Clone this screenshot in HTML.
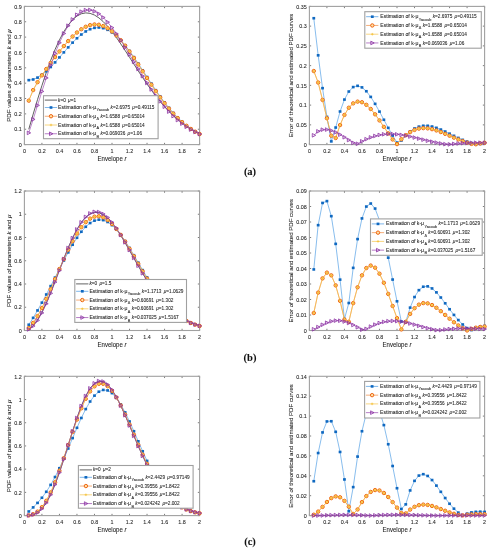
<!DOCTYPE html>
<html><head><meta charset="utf-8"><style>
html,body{margin:0;padding:0;background:#fff;}
body{width:491px;height:550px;overflow:hidden;}
svg{display:block;filter:blur(0.3px);}
text{stroke:#262626;stroke-width:0.08px;}
.tk{stroke-width:0.08px;}
</style></head><body>
<svg width="491" height="550" viewBox="0 0 491 550" font-family='"Liberation Sans", Arial, sans-serif' fill="#262626">
<rect width="491" height="550" fill="#fff"/>
<path d="M24.40 144.60v-1.75M24.40 6.40v1.75M41.92 144.60v-1.75M41.92 6.40v1.75M59.44 144.60v-1.75M59.44 6.40v1.75M76.96 144.60v-1.75M76.96 6.40v1.75M94.48 144.60v-1.75M94.48 6.40v1.75M112.00 144.60v-1.75M112.00 6.40v1.75M129.52 144.60v-1.75M129.52 6.40v1.75M147.04 144.60v-1.75M147.04 6.40v1.75M164.56 144.60v-1.75M164.56 6.40v1.75M182.08 144.60v-1.75M182.08 6.40v1.75M199.60 144.60v-1.75M199.60 6.40v1.75M24.40 144.60h1.75M199.60 144.60h-1.75M24.40 129.24h1.75M199.60 129.24h-1.75M24.40 113.89h1.75M199.60 113.89h-1.75M24.40 98.53h1.75M199.60 98.53h-1.75M24.40 83.18h1.75M199.60 83.18h-1.75M24.40 67.82h1.75M199.60 67.82h-1.75M24.40 52.47h1.75M199.60 52.47h-1.75M24.40 37.11h1.75M199.60 37.11h-1.75M24.40 21.76h1.75M199.60 21.76h-1.75M24.40 6.40h1.75M199.60 6.40h-1.75" stroke="#262626" stroke-width="0.6" fill="none"/>
<rect x="24.40" y="6.40" width="175.20" height="138.20" fill="none" stroke="#a0a0a0" stroke-width="1.1"/>
<text transform="translate(24.40 152.70) scale(0.87 1)" class="tk" text-anchor="middle" font-size="6.2">0</text>
<text transform="translate(41.92 152.70) scale(0.87 1)" class="tk" text-anchor="middle" font-size="6.2">0.2</text>
<text transform="translate(59.44 152.70) scale(0.87 1)" class="tk" text-anchor="middle" font-size="6.2">0.4</text>
<text transform="translate(76.96 152.70) scale(0.87 1)" class="tk" text-anchor="middle" font-size="6.2">0.6</text>
<text transform="translate(94.48 152.70) scale(0.87 1)" class="tk" text-anchor="middle" font-size="6.2">0.8</text>
<text transform="translate(112.00 152.70) scale(0.87 1)" class="tk" text-anchor="middle" font-size="6.2">1</text>
<text transform="translate(129.52 152.70) scale(0.87 1)" class="tk" text-anchor="middle" font-size="6.2">1.2</text>
<text transform="translate(147.04 152.70) scale(0.87 1)" class="tk" text-anchor="middle" font-size="6.2">1.4</text>
<text transform="translate(164.56 152.70) scale(0.87 1)" class="tk" text-anchor="middle" font-size="6.2">1.6</text>
<text transform="translate(182.08 152.70) scale(0.87 1)" class="tk" text-anchor="middle" font-size="6.2">1.8</text>
<text transform="translate(199.60 152.70) scale(0.87 1)" class="tk" text-anchor="middle" font-size="6.2">2</text>
<text transform="translate(21.80 146.83) scale(0.87 1)" class="tk" text-anchor="end" font-size="6.2">0</text>
<text transform="translate(21.80 131.48) scale(0.87 1)" class="tk" text-anchor="end" font-size="6.2">0.1</text>
<text transform="translate(21.80 116.12) scale(0.87 1)" class="tk" text-anchor="end" font-size="6.2">0.2</text>
<text transform="translate(21.80 100.77) scale(0.87 1)" class="tk" text-anchor="end" font-size="6.2">0.3</text>
<text transform="translate(21.80 85.41) scale(0.87 1)" class="tk" text-anchor="end" font-size="6.2">0.4</text>
<text transform="translate(21.80 70.05) scale(0.87 1)" class="tk" text-anchor="end" font-size="6.2">0.5</text>
<text transform="translate(21.80 54.70) scale(0.87 1)" class="tk" text-anchor="end" font-size="6.2">0.6</text>
<text transform="translate(21.80 39.34) scale(0.87 1)" class="tk" text-anchor="end" font-size="6.2">0.7</text>
<text transform="translate(21.80 23.99) scale(0.87 1)" class="tk" text-anchor="end" font-size="6.2">0.8</text>
<text transform="translate(21.80 8.63) scale(0.87 1)" class="tk" text-anchor="end" font-size="6.2">0.9</text>
<text transform="translate(112.00 161.30) scale(0.965 1)" text-anchor="middle" font-size="6.3">Envelope <tspan font-style="italic">r</tspan></text>
<text transform="translate(11.00 75.50) rotate(-90) scale(1.0 1.0)" text-anchor="middle" font-size="6.1">PDF values of parameters <tspan font-style="italic">k</tspan> and <tspan font-style="italic">μ</tspan></text>
<g>
<polyline points="28.78,129.28 33.16,114.19 37.54,99.56 41.92,85.59 46.30,72.47 50.68,60.40 55.06,49.50 59.44,39.92 63.82,31.73 68.20,25.01 72.58,19.78 76.96,16.04 81.34,13.77 85.72,12.90 90.10,13.36 94.48,15.05 98.86,17.85 103.24,21.64 107.62,26.28 112.00,31.62 116.38,37.53 120.76,43.86 125.14,50.49 129.52,57.28 133.90,64.13 138.28,70.93 142.66,77.59 147.04,84.04 151.42,90.20 155.80,96.05 160.18,101.52 164.56,106.61 168.94,111.30 173.32,115.58 177.70,119.46 182.08,122.95 186.46,126.06 190.84,128.81 195.22,131.24 199.60,133.35" fill="none" stroke="#2a2a2a" stroke-width="0.75" stroke-linejoin="round"/>
<polyline points="28.78,80.14 33.16,79.48 37.54,77.61 41.92,74.80 46.30,71.23 50.68,67.03 55.06,62.38 59.44,57.43 63.82,52.37 68.20,47.38 72.58,42.63 76.96,38.29 81.34,34.52 85.72,31.45 90.10,29.21 94.48,27.87 98.86,27.51 103.24,28.16 107.62,29.80 112.00,32.41 116.38,35.93 120.76,40.28 125.14,45.34 129.52,51.01 133.90,57.15 138.28,63.61 142.66,70.28 147.04,77.01 151.42,83.68 155.80,90.19 160.18,96.45 164.56,102.37 168.94,107.89 173.32,112.98 177.70,117.62 182.08,121.78 186.46,125.47 190.84,128.71 195.22,131.52 199.60,133.93" fill="none" stroke="#3890e0" stroke-width="0.6" stroke-linejoin="round"/>
<rect x="27.38" y="78.84" width="2.8" height="2.6" fill="#0f68c0"/><rect x="31.76" y="78.18" width="2.8" height="2.6" fill="#0f68c0"/><rect x="36.14" y="76.31" width="2.8" height="2.6" fill="#0f68c0"/><rect x="40.52" y="73.50" width="2.8" height="2.6" fill="#0f68c0"/><rect x="44.90" y="69.93" width="2.8" height="2.6" fill="#0f68c0"/><rect x="49.28" y="65.73" width="2.8" height="2.6" fill="#0f68c0"/><rect x="53.66" y="61.08" width="2.8" height="2.6" fill="#0f68c0"/><rect x="58.04" y="56.13" width="2.8" height="2.6" fill="#0f68c0"/><rect x="62.42" y="51.07" width="2.8" height="2.6" fill="#0f68c0"/><rect x="66.80" y="46.08" width="2.8" height="2.6" fill="#0f68c0"/><rect x="71.18" y="41.33" width="2.8" height="2.6" fill="#0f68c0"/><rect x="75.56" y="36.99" width="2.8" height="2.6" fill="#0f68c0"/><rect x="79.94" y="33.22" width="2.8" height="2.6" fill="#0f68c0"/><rect x="84.32" y="30.15" width="2.8" height="2.6" fill="#0f68c0"/><rect x="88.70" y="27.91" width="2.8" height="2.6" fill="#0f68c0"/><rect x="93.08" y="26.57" width="2.8" height="2.6" fill="#0f68c0"/><rect x="97.46" y="26.21" width="2.8" height="2.6" fill="#0f68c0"/><rect x="101.84" y="26.86" width="2.8" height="2.6" fill="#0f68c0"/><rect x="106.22" y="28.50" width="2.8" height="2.6" fill="#0f68c0"/><rect x="110.60" y="31.11" width="2.8" height="2.6" fill="#0f68c0"/><rect x="114.98" y="34.63" width="2.8" height="2.6" fill="#0f68c0"/><rect x="119.36" y="38.98" width="2.8" height="2.6" fill="#0f68c0"/><rect x="123.74" y="44.04" width="2.8" height="2.6" fill="#0f68c0"/><rect x="128.12" y="49.71" width="2.8" height="2.6" fill="#0f68c0"/><rect x="132.50" y="55.85" width="2.8" height="2.6" fill="#0f68c0"/><rect x="136.88" y="62.31" width="2.8" height="2.6" fill="#0f68c0"/><rect x="141.26" y="68.98" width="2.8" height="2.6" fill="#0f68c0"/><rect x="145.64" y="75.71" width="2.8" height="2.6" fill="#0f68c0"/><rect x="150.02" y="82.38" width="2.8" height="2.6" fill="#0f68c0"/><rect x="154.40" y="88.89" width="2.8" height="2.6" fill="#0f68c0"/><rect x="158.78" y="95.15" width="2.8" height="2.6" fill="#0f68c0"/><rect x="163.16" y="101.07" width="2.8" height="2.6" fill="#0f68c0"/><rect x="167.54" y="106.59" width="2.8" height="2.6" fill="#0f68c0"/><rect x="171.92" y="111.68" width="2.8" height="2.6" fill="#0f68c0"/><rect x="176.30" y="116.32" width="2.8" height="2.6" fill="#0f68c0"/><rect x="180.68" y="120.48" width="2.8" height="2.6" fill="#0f68c0"/><rect x="185.06" y="124.17" width="2.8" height="2.6" fill="#0f68c0"/><rect x="189.44" y="127.41" width="2.8" height="2.6" fill="#0f68c0"/><rect x="193.82" y="130.22" width="2.8" height="2.6" fill="#0f68c0"/><rect x="198.20" y="132.63" width="2.8" height="2.6" fill="#0f68c0"/>
<polyline points="28.78,100.67 33.16,90.06 37.54,82.18 41.92,75.35 46.30,69.02 50.68,62.96 55.06,57.10 59.44,51.45 63.82,46.07 68.20,41.05 72.58,36.49 76.96,32.52 81.34,29.24 85.72,26.75 90.10,25.13 94.48,24.45 98.86,24.75 103.24,26.03 107.62,28.27 112.00,31.43 116.38,35.44 120.76,40.21 125.14,45.63 129.52,51.57 133.90,57.92 138.28,64.53 142.66,71.27 147.04,78.03 151.42,84.70 155.80,91.16 160.18,97.34 164.56,103.17 168.94,108.60 173.32,113.59 177.70,118.12 182.08,122.18 186.46,125.78 190.84,128.95 195.22,131.69 199.60,134.05" fill="none" stroke="#f08030" stroke-width="0.6" stroke-linejoin="round"/>
<circle cx="28.78" cy="100.67" r="1.7" fill="#fde3a8" stroke="#f06412" stroke-width="1.0"/><circle cx="33.16" cy="90.06" r="1.7" fill="#fde3a8" stroke="#f06412" stroke-width="1.0"/><circle cx="37.54" cy="82.18" r="1.7" fill="#fde3a8" stroke="#f06412" stroke-width="1.0"/><circle cx="41.92" cy="75.35" r="1.7" fill="#fde3a8" stroke="#f06412" stroke-width="1.0"/><circle cx="46.30" cy="69.02" r="1.7" fill="#fde3a8" stroke="#f06412" stroke-width="1.0"/><circle cx="50.68" cy="62.96" r="1.7" fill="#fde3a8" stroke="#f06412" stroke-width="1.0"/><circle cx="55.06" cy="57.10" r="1.7" fill="#fde3a8" stroke="#f06412" stroke-width="1.0"/><circle cx="59.44" cy="51.45" r="1.7" fill="#fde3a8" stroke="#f06412" stroke-width="1.0"/><circle cx="63.82" cy="46.07" r="1.7" fill="#fde3a8" stroke="#f06412" stroke-width="1.0"/><circle cx="68.20" cy="41.05" r="1.7" fill="#fde3a8" stroke="#f06412" stroke-width="1.0"/><circle cx="72.58" cy="36.49" r="1.7" fill="#fde3a8" stroke="#f06412" stroke-width="1.0"/><circle cx="76.96" cy="32.52" r="1.7" fill="#fde3a8" stroke="#f06412" stroke-width="1.0"/><circle cx="81.34" cy="29.24" r="1.7" fill="#fde3a8" stroke="#f06412" stroke-width="1.0"/><circle cx="85.72" cy="26.75" r="1.7" fill="#fde3a8" stroke="#f06412" stroke-width="1.0"/><circle cx="90.10" cy="25.13" r="1.7" fill="#fde3a8" stroke="#f06412" stroke-width="1.0"/><circle cx="94.48" cy="24.45" r="1.7" fill="#fde3a8" stroke="#f06412" stroke-width="1.0"/><circle cx="98.86" cy="24.75" r="1.7" fill="#fde3a8" stroke="#f06412" stroke-width="1.0"/><circle cx="103.24" cy="26.03" r="1.7" fill="#fde3a8" stroke="#f06412" stroke-width="1.0"/><circle cx="107.62" cy="28.27" r="1.7" fill="#fde3a8" stroke="#f06412" stroke-width="1.0"/><circle cx="112.00" cy="31.43" r="1.7" fill="#fde3a8" stroke="#f06412" stroke-width="1.0"/><circle cx="116.38" cy="35.44" r="1.7" fill="#fde3a8" stroke="#f06412" stroke-width="1.0"/><circle cx="120.76" cy="40.21" r="1.7" fill="#fde3a8" stroke="#f06412" stroke-width="1.0"/><circle cx="125.14" cy="45.63" r="1.7" fill="#fde3a8" stroke="#f06412" stroke-width="1.0"/><circle cx="129.52" cy="51.57" r="1.7" fill="#fde3a8" stroke="#f06412" stroke-width="1.0"/><circle cx="133.90" cy="57.92" r="1.7" fill="#fde3a8" stroke="#f06412" stroke-width="1.0"/><circle cx="138.28" cy="64.53" r="1.7" fill="#fde3a8" stroke="#f06412" stroke-width="1.0"/><circle cx="142.66" cy="71.27" r="1.7" fill="#fde3a8" stroke="#f06412" stroke-width="1.0"/><circle cx="147.04" cy="78.03" r="1.7" fill="#fde3a8" stroke="#f06412" stroke-width="1.0"/><circle cx="151.42" cy="84.70" r="1.7" fill="#fde3a8" stroke="#f06412" stroke-width="1.0"/><circle cx="155.80" cy="91.16" r="1.7" fill="#fde3a8" stroke="#f06412" stroke-width="1.0"/><circle cx="160.18" cy="97.34" r="1.7" fill="#fde3a8" stroke="#f06412" stroke-width="1.0"/><circle cx="164.56" cy="103.17" r="1.7" fill="#fde3a8" stroke="#f06412" stroke-width="1.0"/><circle cx="168.94" cy="108.60" r="1.7" fill="#fde3a8" stroke="#f06412" stroke-width="1.0"/><circle cx="173.32" cy="113.59" r="1.7" fill="#fde3a8" stroke="#f06412" stroke-width="1.0"/><circle cx="177.70" cy="118.12" r="1.7" fill="#fde3a8" stroke="#f06412" stroke-width="1.0"/><circle cx="182.08" cy="122.18" r="1.7" fill="#fde3a8" stroke="#f06412" stroke-width="1.0"/><circle cx="186.46" cy="125.78" r="1.7" fill="#fde3a8" stroke="#f06412" stroke-width="1.0"/><circle cx="190.84" cy="128.95" r="1.7" fill="#fde3a8" stroke="#f06412" stroke-width="1.0"/><circle cx="195.22" cy="131.69" r="1.7" fill="#fde3a8" stroke="#f06412" stroke-width="1.0"/><circle cx="199.60" cy="134.05" r="1.7" fill="#fde3a8" stroke="#f06412" stroke-width="1.0"/>
<polyline points="28.78,100.67 33.16,90.06 37.54,82.18 41.92,75.35 46.30,69.02 50.68,62.96 55.06,57.10 59.44,51.45 63.82,46.07 68.20,41.05 72.58,36.49 76.96,32.52 81.34,29.24 85.72,26.75 90.10,25.13 94.48,24.45 98.86,24.75 103.24,26.03 107.62,28.27 112.00,31.43 116.38,35.44 120.76,40.21 125.14,45.63 129.52,51.57 133.90,57.92 138.28,64.53 142.66,71.27 147.04,78.03 151.42,84.70 155.80,91.16 160.18,97.34 164.56,103.17 168.94,108.60 173.32,113.59 177.70,118.12 182.08,122.18 186.46,125.78 190.84,128.95 195.22,131.69 199.60,134.05" fill="none" stroke="#f4c03c" stroke-width="0.6" stroke-linejoin="round"/>
<path d="M27.48 100.67h2.6M28.78 99.37v2.6" stroke="#f4bc28" stroke-width="0.65" fill="none"/><path d="M31.86 90.06h2.6M33.16 88.76v2.6" stroke="#f4bc28" stroke-width="0.65" fill="none"/><path d="M36.24 82.18h2.6M37.54 80.88v2.6" stroke="#f4bc28" stroke-width="0.65" fill="none"/><path d="M40.62 75.35h2.6M41.92 74.05v2.6" stroke="#f4bc28" stroke-width="0.65" fill="none"/><path d="M45.00 69.02h2.6M46.30 67.72v2.6" stroke="#f4bc28" stroke-width="0.65" fill="none"/><path d="M49.38 62.96h2.6M50.68 61.66v2.6" stroke="#f4bc28" stroke-width="0.65" fill="none"/><path d="M53.76 57.10h2.6M55.06 55.80v2.6" stroke="#f4bc28" stroke-width="0.65" fill="none"/><path d="M58.14 51.45h2.6M59.44 50.15v2.6" stroke="#f4bc28" stroke-width="0.65" fill="none"/><path d="M62.52 46.07h2.6M63.82 44.77v2.6" stroke="#f4bc28" stroke-width="0.65" fill="none"/><path d="M66.90 41.05h2.6M68.20 39.75v2.6" stroke="#f4bc28" stroke-width="0.65" fill="none"/><path d="M71.28 36.49h2.6M72.58 35.19v2.6" stroke="#f4bc28" stroke-width="0.65" fill="none"/><path d="M75.66 32.52h2.6M76.96 31.22v2.6" stroke="#f4bc28" stroke-width="0.65" fill="none"/><path d="M80.04 29.24h2.6M81.34 27.94v2.6" stroke="#f4bc28" stroke-width="0.65" fill="none"/><path d="M84.42 26.75h2.6M85.72 25.45v2.6" stroke="#f4bc28" stroke-width="0.65" fill="none"/><path d="M88.80 25.13h2.6M90.10 23.83v2.6" stroke="#f4bc28" stroke-width="0.65" fill="none"/><path d="M93.18 24.45h2.6M94.48 23.15v2.6" stroke="#f4bc28" stroke-width="0.65" fill="none"/><path d="M97.56 24.75h2.6M98.86 23.45v2.6" stroke="#f4bc28" stroke-width="0.65" fill="none"/><path d="M101.94 26.03h2.6M103.24 24.73v2.6" stroke="#f4bc28" stroke-width="0.65" fill="none"/><path d="M106.32 28.27h2.6M107.62 26.97v2.6" stroke="#f4bc28" stroke-width="0.65" fill="none"/><path d="M110.70 31.43h2.6M112.00 30.13v2.6" stroke="#f4bc28" stroke-width="0.65" fill="none"/><path d="M115.08 35.44h2.6M116.38 34.14v2.6" stroke="#f4bc28" stroke-width="0.65" fill="none"/><path d="M119.46 40.21h2.6M120.76 38.91v2.6" stroke="#f4bc28" stroke-width="0.65" fill="none"/><path d="M123.84 45.63h2.6M125.14 44.33v2.6" stroke="#f4bc28" stroke-width="0.65" fill="none"/><path d="M128.22 51.57h2.6M129.52 50.27v2.6" stroke="#f4bc28" stroke-width="0.65" fill="none"/><path d="M132.60 57.92h2.6M133.90 56.62v2.6" stroke="#f4bc28" stroke-width="0.65" fill="none"/><path d="M136.98 64.53h2.6M138.28 63.23v2.6" stroke="#f4bc28" stroke-width="0.65" fill="none"/><path d="M141.36 71.27h2.6M142.66 69.97v2.6" stroke="#f4bc28" stroke-width="0.65" fill="none"/><path d="M145.74 78.03h2.6M147.04 76.73v2.6" stroke="#f4bc28" stroke-width="0.65" fill="none"/><path d="M150.12 84.70h2.6M151.42 83.40v2.6" stroke="#f4bc28" stroke-width="0.65" fill="none"/><path d="M154.50 91.16h2.6M155.80 89.86v2.6" stroke="#f4bc28" stroke-width="0.65" fill="none"/><path d="M158.88 97.34h2.6M160.18 96.04v2.6" stroke="#f4bc28" stroke-width="0.65" fill="none"/><path d="M163.26 103.17h2.6M164.56 101.87v2.6" stroke="#f4bc28" stroke-width="0.65" fill="none"/><path d="M167.64 108.60h2.6M168.94 107.30v2.6" stroke="#f4bc28" stroke-width="0.65" fill="none"/><path d="M172.02 113.59h2.6M173.32 112.29v2.6" stroke="#f4bc28" stroke-width="0.65" fill="none"/><path d="M176.40 118.12h2.6M177.70 116.82v2.6" stroke="#f4bc28" stroke-width="0.65" fill="none"/><path d="M180.78 122.18h2.6M182.08 120.88v2.6" stroke="#f4bc28" stroke-width="0.65" fill="none"/><path d="M185.16 125.78h2.6M186.46 124.48v2.6" stroke="#f4bc28" stroke-width="0.65" fill="none"/><path d="M189.54 128.95h2.6M190.84 127.65v2.6" stroke="#f4bc28" stroke-width="0.65" fill="none"/><path d="M193.92 131.69h2.6M195.22 130.39v2.6" stroke="#f4bc28" stroke-width="0.65" fill="none"/><path d="M198.30 134.05h2.6M199.60 132.75v2.6" stroke="#f4bc28" stroke-width="0.65" fill="none"/>
<polyline points="28.78,132.89 33.16,119.35 37.54,105.36 41.92,91.43 46.30,77.93 50.68,65.17 55.06,53.38 59.44,42.78 63.82,33.51 68.20,25.71 72.58,19.45 76.96,14.77 81.34,11.66 85.72,10.10 90.10,10.01 94.48,11.30 98.86,13.84 103.24,17.52 107.62,22.16 112.00,27.63 116.38,33.75 120.76,40.38 125.14,47.36 129.52,54.54 133.90,61.80 138.28,69.01 142.66,76.08 147.04,82.91 151.42,89.44 155.80,95.60 160.18,101.36 164.56,106.69 168.94,111.58 173.32,116.03 177.70,120.03 182.08,123.60 186.46,126.77 190.84,129.55 195.22,131.97 199.60,134.07" fill="none" stroke="#9038a8" stroke-width="0.6" stroke-linejoin="round"/>
<path d="M27.28 131.09L30.68 132.89L27.28 134.69Z" fill="none" stroke="#8a2ea2" stroke-width="0.8"/><path d="M31.66 117.55L35.06 119.35L31.66 121.15Z" fill="none" stroke="#8a2ea2" stroke-width="0.8"/><path d="M36.04 103.56L39.44 105.36L36.04 107.16Z" fill="none" stroke="#8a2ea2" stroke-width="0.8"/><path d="M40.42 89.63L43.82 91.43L40.42 93.23Z" fill="none" stroke="#8a2ea2" stroke-width="0.8"/><path d="M44.80 76.13L48.20 77.93L44.80 79.73Z" fill="none" stroke="#8a2ea2" stroke-width="0.8"/><path d="M49.18 63.37L52.58 65.17L49.18 66.97Z" fill="none" stroke="#8a2ea2" stroke-width="0.8"/><path d="M53.56 51.58L56.96 53.38L53.56 55.18Z" fill="none" stroke="#8a2ea2" stroke-width="0.8"/><path d="M57.94 40.98L61.34 42.78L57.94 44.58Z" fill="none" stroke="#8a2ea2" stroke-width="0.8"/><path d="M62.32 31.71L65.72 33.51L62.32 35.31Z" fill="none" stroke="#8a2ea2" stroke-width="0.8"/><path d="M66.70 23.91L70.10 25.71L66.70 27.51Z" fill="none" stroke="#8a2ea2" stroke-width="0.8"/><path d="M71.08 17.65L74.48 19.45L71.08 21.25Z" fill="none" stroke="#8a2ea2" stroke-width="0.8"/><path d="M75.46 12.97L78.86 14.77L75.46 16.57Z" fill="none" stroke="#8a2ea2" stroke-width="0.8"/><path d="M79.84 9.86L83.24 11.66L79.84 13.46Z" fill="none" stroke="#8a2ea2" stroke-width="0.8"/><path d="M84.22 8.30L87.62 10.10L84.22 11.90Z" fill="none" stroke="#8a2ea2" stroke-width="0.8"/><path d="M88.60 8.21L92.00 10.01L88.60 11.81Z" fill="none" stroke="#8a2ea2" stroke-width="0.8"/><path d="M92.98 9.50L96.38 11.30L92.98 13.10Z" fill="none" stroke="#8a2ea2" stroke-width="0.8"/><path d="M97.36 12.04L100.76 13.84L97.36 15.64Z" fill="none" stroke="#8a2ea2" stroke-width="0.8"/><path d="M101.74 15.72L105.14 17.52L101.74 19.32Z" fill="none" stroke="#8a2ea2" stroke-width="0.8"/><path d="M106.12 20.36L109.52 22.16L106.12 23.96Z" fill="none" stroke="#8a2ea2" stroke-width="0.8"/><path d="M110.50 25.83L113.90 27.63L110.50 29.43Z" fill="none" stroke="#8a2ea2" stroke-width="0.8"/><path d="M114.88 31.95L118.28 33.75L114.88 35.55Z" fill="none" stroke="#8a2ea2" stroke-width="0.8"/><path d="M119.26 38.58L122.66 40.38L119.26 42.18Z" fill="none" stroke="#8a2ea2" stroke-width="0.8"/><path d="M123.64 45.56L127.04 47.36L123.64 49.16Z" fill="none" stroke="#8a2ea2" stroke-width="0.8"/><path d="M128.02 52.74L131.42 54.54L128.02 56.34Z" fill="none" stroke="#8a2ea2" stroke-width="0.8"/><path d="M132.40 60.00L135.80 61.80L132.40 63.60Z" fill="none" stroke="#8a2ea2" stroke-width="0.8"/><path d="M136.78 67.21L140.18 69.01L136.78 70.81Z" fill="none" stroke="#8a2ea2" stroke-width="0.8"/><path d="M141.16 74.28L144.56 76.08L141.16 77.88Z" fill="none" stroke="#8a2ea2" stroke-width="0.8"/><path d="M145.54 81.11L148.94 82.91L145.54 84.71Z" fill="none" stroke="#8a2ea2" stroke-width="0.8"/><path d="M149.92 87.64L153.32 89.44L149.92 91.24Z" fill="none" stroke="#8a2ea2" stroke-width="0.8"/><path d="M154.30 93.80L157.70 95.60L154.30 97.40Z" fill="none" stroke="#8a2ea2" stroke-width="0.8"/><path d="M158.68 99.56L162.08 101.36L158.68 103.16Z" fill="none" stroke="#8a2ea2" stroke-width="0.8"/><path d="M163.06 104.89L166.46 106.69L163.06 108.49Z" fill="none" stroke="#8a2ea2" stroke-width="0.8"/><path d="M167.44 109.78L170.84 111.58L167.44 113.38Z" fill="none" stroke="#8a2ea2" stroke-width="0.8"/><path d="M171.82 114.23L175.22 116.03L171.82 117.83Z" fill="none" stroke="#8a2ea2" stroke-width="0.8"/><path d="M176.20 118.23L179.60 120.03L176.20 121.83Z" fill="none" stroke="#8a2ea2" stroke-width="0.8"/><path d="M180.58 121.80L183.98 123.60L180.58 125.40Z" fill="none" stroke="#8a2ea2" stroke-width="0.8"/><path d="M184.96 124.97L188.36 126.77L184.96 128.57Z" fill="none" stroke="#8a2ea2" stroke-width="0.8"/><path d="M189.34 127.75L192.74 129.55L189.34 131.35Z" fill="none" stroke="#8a2ea2" stroke-width="0.8"/><path d="M193.72 130.17L197.12 131.97L193.72 133.77Z" fill="none" stroke="#8a2ea2" stroke-width="0.8"/><path d="M198.10 132.27L201.50 134.07L198.10 135.87Z" fill="none" stroke="#8a2ea2" stroke-width="0.8"/>
</g>
<rect x="43.50" y="95.70" width="114.60" height="43.00" fill="#fff" stroke="#a0a0a0" stroke-width="1.1"/>
<path d="M44.80 100.10H57.10" stroke="#3a3a3a" stroke-width="0.8"/>
<text transform="translate(58.10 101.65) scale(0.93 1)" font-size="5.1"><tspan font-style="italic">k</tspan>=0<tspan dx="2.4" font-style="italic">μ</tspan>=1</text>
<path d="M44.80 107.50H57.10" stroke="#3890e0" stroke-width="0.65"/>
<rect x="49.60" y="106.20" width="2.8" height="2.6" fill="#0f68c0"/>
<text transform="translate(58.10 109.05) scale(1.0 1)" font-size="5.1">Estimation of k-μ</text>
<text transform="translate(96.53 111.45) scale(1.0 1)" font-size="3.8">Yacoub</text>
<text transform="translate(110.54 109.05) scale(0.93 1)" font-size="5.1"><tspan font-style="italic">k</tspan>=2.6975<tspan dx="2.4" font-style="italic">μ</tspan>=0.49115</text>
<path d="M44.80 116.25H57.10" stroke="#f08030" stroke-width="0.65"/>
<circle cx="51.00" cy="116.25" r="1.7" fill="#fde3a8" stroke="#f06412" stroke-width="1.0"/>
<text transform="translate(58.10 117.80) scale(1.0 1)" font-size="5.1">Estimation of k-μ</text>
<text transform="translate(96.53 120.20) scale(1.0 1)" font-size="3.8">Δ</text>
<text transform="translate(100.47 117.80) scale(0.93 1)" font-size="5.1"><tspan font-style="italic">k</tspan>=1.6588<tspan dx="2.4" font-style="italic">μ</tspan>=0.65014</text>
<path d="M44.80 125.00H57.10" stroke="#f4c03c" stroke-width="0.65"/>
<path d="M49.70 125.00h2.6M51.00 123.70v2.6" stroke="#f4bc28" stroke-width="0.65" fill="none"/>
<text transform="translate(58.10 126.55) scale(1.0 1)" font-size="5.1">Estimation of k-μ</text>
<text transform="translate(96.53 128.95) scale(1.0 1)" font-size="3.8">A</text>
<text transform="translate(100.47 126.55) scale(0.93 1)" font-size="5.1"><tspan font-style="italic">k</tspan>=1.6588<tspan dx="2.4" font-style="italic">μ</tspan>=0.65014</text>
<path d="M44.80 133.75H57.10" stroke="#9038a8" stroke-width="0.65"/>
<path d="M49.50 131.95L52.90 133.75L49.50 135.55Z" fill="none" stroke="#8a2ea2" stroke-width="0.8"/>
<text transform="translate(58.10 135.30) scale(1.0 1)" font-size="5.1">Estimation of k-μ</text>
<text transform="translate(96.53 137.70) scale(1.0 1)" font-size="3.8">B</text>
<text transform="translate(100.47 135.30) scale(0.93 1)" font-size="5.1"><tspan font-style="italic">k</tspan>=0.069036<tspan dx="2.4" font-style="italic">μ</tspan>=1.06</text>
<path d="M309.40 144.60v-1.75M309.40 6.40v1.75M326.92 144.60v-1.75M326.92 6.40v1.75M344.44 144.60v-1.75M344.44 6.40v1.75M361.96 144.60v-1.75M361.96 6.40v1.75M379.48 144.60v-1.75M379.48 6.40v1.75M397.00 144.60v-1.75M397.00 6.40v1.75M414.52 144.60v-1.75M414.52 6.40v1.75M432.04 144.60v-1.75M432.04 6.40v1.75M449.56 144.60v-1.75M449.56 6.40v1.75M467.08 144.60v-1.75M467.08 6.40v1.75M484.60 144.60v-1.75M484.60 6.40v1.75M309.40 144.60h1.75M484.60 144.60h-1.75M309.40 124.86h1.75M484.60 124.86h-1.75M309.40 105.11h1.75M484.60 105.11h-1.75M309.40 85.37h1.75M484.60 85.37h-1.75M309.40 65.63h1.75M484.60 65.63h-1.75M309.40 45.89h1.75M484.60 45.89h-1.75M309.40 26.14h1.75M484.60 26.14h-1.75M309.40 6.40h1.75M484.60 6.40h-1.75" stroke="#262626" stroke-width="0.6" fill="none"/>
<rect x="309.40" y="6.40" width="175.20" height="138.20" fill="none" stroke="#a0a0a0" stroke-width="1.1"/>
<text transform="translate(309.40 152.70) scale(0.87 1)" class="tk" text-anchor="middle" font-size="6.2">0</text>
<text transform="translate(326.92 152.70) scale(0.87 1)" class="tk" text-anchor="middle" font-size="6.2">0.2</text>
<text transform="translate(344.44 152.70) scale(0.87 1)" class="tk" text-anchor="middle" font-size="6.2">0.4</text>
<text transform="translate(361.96 152.70) scale(0.87 1)" class="tk" text-anchor="middle" font-size="6.2">0.6</text>
<text transform="translate(379.48 152.70) scale(0.87 1)" class="tk" text-anchor="middle" font-size="6.2">0.8</text>
<text transform="translate(397.00 152.70) scale(0.87 1)" class="tk" text-anchor="middle" font-size="6.2">1</text>
<text transform="translate(414.52 152.70) scale(0.87 1)" class="tk" text-anchor="middle" font-size="6.2">1.2</text>
<text transform="translate(432.04 152.70) scale(0.87 1)" class="tk" text-anchor="middle" font-size="6.2">1.4</text>
<text transform="translate(449.56 152.70) scale(0.87 1)" class="tk" text-anchor="middle" font-size="6.2">1.6</text>
<text transform="translate(467.08 152.70) scale(0.87 1)" class="tk" text-anchor="middle" font-size="6.2">1.8</text>
<text transform="translate(484.60 152.70) scale(0.87 1)" class="tk" text-anchor="middle" font-size="6.2">2</text>
<text transform="translate(306.80 146.83) scale(0.87 1)" class="tk" text-anchor="end" font-size="6.2">0</text>
<text transform="translate(306.80 127.09) scale(0.87 1)" class="tk" text-anchor="end" font-size="6.2">0.05</text>
<text transform="translate(306.80 107.35) scale(0.87 1)" class="tk" text-anchor="end" font-size="6.2">0.1</text>
<text transform="translate(306.80 87.60) scale(0.87 1)" class="tk" text-anchor="end" font-size="6.2">0.15</text>
<text transform="translate(306.80 67.86) scale(0.87 1)" class="tk" text-anchor="end" font-size="6.2">0.2</text>
<text transform="translate(306.80 48.12) scale(0.87 1)" class="tk" text-anchor="end" font-size="6.2">0.25</text>
<text transform="translate(306.80 28.37) scale(0.87 1)" class="tk" text-anchor="end" font-size="6.2">0.3</text>
<text transform="translate(306.80 8.63) scale(0.87 1)" class="tk" text-anchor="end" font-size="6.2">0.35</text>
<text transform="translate(397.00 161.30) scale(0.965 1)" text-anchor="middle" font-size="6.3">Envelope <tspan font-style="italic">r</tspan></text>
<text transform="translate(293.00 75.50) rotate(-90) scale(1.0 1.0)" text-anchor="middle" font-size="6.1">Error of theoretical and estimated PDF curves</text>
<polyline points="313.78,18.22 318.16,55.33 322.54,88.16 326.92,116.88 331.30,141.39 335.68,127.54 340.06,111.50 344.44,99.57 348.82,91.53 353.20,87.08 357.58,85.84 361.96,87.39 366.34,91.24 370.72,96.90 375.10,103.85 379.48,111.62 383.86,119.76 388.24,127.85 392.62,135.55 397.00,142.57 401.38,140.49 405.76,135.38 410.14,131.37 414.52,128.47 418.90,126.63 423.28,125.78 427.66,125.79 432.04,126.52 436.42,127.83 440.80,129.55 445.18,131.54 449.56,133.68 453.94,135.83 458.32,137.91 462.70,139.85 467.08,141.58 471.46,143.08 475.84,144.33 480.22,143.87 484.60,143.10" fill="none" stroke="#3890e0" stroke-width="0.6" stroke-linejoin="round"/>
<rect x="312.38" y="16.92" width="2.8" height="2.6" fill="#0f68c0"/><rect x="316.76" y="54.03" width="2.8" height="2.6" fill="#0f68c0"/><rect x="321.14" y="86.86" width="2.8" height="2.6" fill="#0f68c0"/><rect x="325.52" y="115.58" width="2.8" height="2.6" fill="#0f68c0"/><rect x="329.90" y="140.09" width="2.8" height="2.6" fill="#0f68c0"/><rect x="334.28" y="126.24" width="2.8" height="2.6" fill="#0f68c0"/><rect x="338.66" y="110.20" width="2.8" height="2.6" fill="#0f68c0"/><rect x="343.04" y="98.27" width="2.8" height="2.6" fill="#0f68c0"/><rect x="347.42" y="90.23" width="2.8" height="2.6" fill="#0f68c0"/><rect x="351.80" y="85.78" width="2.8" height="2.6" fill="#0f68c0"/><rect x="356.18" y="84.54" width="2.8" height="2.6" fill="#0f68c0"/><rect x="360.56" y="86.09" width="2.8" height="2.6" fill="#0f68c0"/><rect x="364.94" y="89.94" width="2.8" height="2.6" fill="#0f68c0"/><rect x="369.32" y="95.60" width="2.8" height="2.6" fill="#0f68c0"/><rect x="373.70" y="102.55" width="2.8" height="2.6" fill="#0f68c0"/><rect x="378.08" y="110.32" width="2.8" height="2.6" fill="#0f68c0"/><rect x="382.46" y="118.46" width="2.8" height="2.6" fill="#0f68c0"/><rect x="386.84" y="126.55" width="2.8" height="2.6" fill="#0f68c0"/><rect x="391.22" y="134.25" width="2.8" height="2.6" fill="#0f68c0"/><rect x="395.60" y="141.27" width="2.8" height="2.6" fill="#0f68c0"/><rect x="399.98" y="139.19" width="2.8" height="2.6" fill="#0f68c0"/><rect x="404.36" y="134.08" width="2.8" height="2.6" fill="#0f68c0"/><rect x="408.74" y="130.07" width="2.8" height="2.6" fill="#0f68c0"/><rect x="413.12" y="127.17" width="2.8" height="2.6" fill="#0f68c0"/><rect x="417.50" y="125.33" width="2.8" height="2.6" fill="#0f68c0"/><rect x="421.88" y="124.48" width="2.8" height="2.6" fill="#0f68c0"/><rect x="426.26" y="124.49" width="2.8" height="2.6" fill="#0f68c0"/><rect x="430.64" y="125.22" width="2.8" height="2.6" fill="#0f68c0"/><rect x="435.02" y="126.53" width="2.8" height="2.6" fill="#0f68c0"/><rect x="439.40" y="128.25" width="2.8" height="2.6" fill="#0f68c0"/><rect x="443.78" y="130.24" width="2.8" height="2.6" fill="#0f68c0"/><rect x="448.16" y="132.38" width="2.8" height="2.6" fill="#0f68c0"/><rect x="452.54" y="134.53" width="2.8" height="2.6" fill="#0f68c0"/><rect x="456.92" y="136.61" width="2.8" height="2.6" fill="#0f68c0"/><rect x="461.30" y="138.55" width="2.8" height="2.6" fill="#0f68c0"/><rect x="465.68" y="140.28" width="2.8" height="2.6" fill="#0f68c0"/><rect x="470.06" y="141.78" width="2.8" height="2.6" fill="#0f68c0"/><rect x="474.44" y="143.03" width="2.8" height="2.6" fill="#0f68c0"/><rect x="478.82" y="142.57" width="2.8" height="2.6" fill="#0f68c0"/><rect x="483.20" y="141.80" width="2.8" height="2.6" fill="#0f68c0"/>
<polyline points="313.78,71.04 318.16,82.54 322.54,99.90 326.92,118.28 331.30,135.72 335.68,138.00 340.06,125.06 344.44,114.94 348.82,107.74 353.20,103.36 357.58,101.63 361.96,102.23 366.34,104.82 370.72,108.99 375.10,114.33 379.48,120.42 383.86,126.87 388.24,133.32 392.62,139.47 397.00,144.12 401.38,139.24 405.76,135.21 410.14,132.10 414.52,129.91 418.90,128.61 423.28,128.13 427.66,128.35 432.04,129.17 436.42,130.44 440.80,132.04 445.18,133.85 449.56,135.75 453.94,137.65 458.32,139.46 462.70,141.13 467.08,142.62 471.46,143.89 475.84,144.26 480.22,143.43 484.60,142.81" fill="none" stroke="#f08030" stroke-width="0.6" stroke-linejoin="round"/>
<circle cx="313.78" cy="71.04" r="1.7" fill="#fde3a8" stroke="#f06412" stroke-width="1.0"/><circle cx="318.16" cy="82.54" r="1.7" fill="#fde3a8" stroke="#f06412" stroke-width="1.0"/><circle cx="322.54" cy="99.90" r="1.7" fill="#fde3a8" stroke="#f06412" stroke-width="1.0"/><circle cx="326.92" cy="118.28" r="1.7" fill="#fde3a8" stroke="#f06412" stroke-width="1.0"/><circle cx="331.30" cy="135.72" r="1.7" fill="#fde3a8" stroke="#f06412" stroke-width="1.0"/><circle cx="335.68" cy="138.00" r="1.7" fill="#fde3a8" stroke="#f06412" stroke-width="1.0"/><circle cx="340.06" cy="125.06" r="1.7" fill="#fde3a8" stroke="#f06412" stroke-width="1.0"/><circle cx="344.44" cy="114.94" r="1.7" fill="#fde3a8" stroke="#f06412" stroke-width="1.0"/><circle cx="348.82" cy="107.74" r="1.7" fill="#fde3a8" stroke="#f06412" stroke-width="1.0"/><circle cx="353.20" cy="103.36" r="1.7" fill="#fde3a8" stroke="#f06412" stroke-width="1.0"/><circle cx="357.58" cy="101.63" r="1.7" fill="#fde3a8" stroke="#f06412" stroke-width="1.0"/><circle cx="361.96" cy="102.23" r="1.7" fill="#fde3a8" stroke="#f06412" stroke-width="1.0"/><circle cx="366.34" cy="104.82" r="1.7" fill="#fde3a8" stroke="#f06412" stroke-width="1.0"/><circle cx="370.72" cy="108.99" r="1.7" fill="#fde3a8" stroke="#f06412" stroke-width="1.0"/><circle cx="375.10" cy="114.33" r="1.7" fill="#fde3a8" stroke="#f06412" stroke-width="1.0"/><circle cx="379.48" cy="120.42" r="1.7" fill="#fde3a8" stroke="#f06412" stroke-width="1.0"/><circle cx="383.86" cy="126.87" r="1.7" fill="#fde3a8" stroke="#f06412" stroke-width="1.0"/><circle cx="388.24" cy="133.32" r="1.7" fill="#fde3a8" stroke="#f06412" stroke-width="1.0"/><circle cx="392.62" cy="139.47" r="1.7" fill="#fde3a8" stroke="#f06412" stroke-width="1.0"/><circle cx="397.00" cy="144.12" r="1.7" fill="#fde3a8" stroke="#f06412" stroke-width="1.0"/><circle cx="401.38" cy="139.24" r="1.7" fill="#fde3a8" stroke="#f06412" stroke-width="1.0"/><circle cx="405.76" cy="135.21" r="1.7" fill="#fde3a8" stroke="#f06412" stroke-width="1.0"/><circle cx="410.14" cy="132.10" r="1.7" fill="#fde3a8" stroke="#f06412" stroke-width="1.0"/><circle cx="414.52" cy="129.91" r="1.7" fill="#fde3a8" stroke="#f06412" stroke-width="1.0"/><circle cx="418.90" cy="128.61" r="1.7" fill="#fde3a8" stroke="#f06412" stroke-width="1.0"/><circle cx="423.28" cy="128.13" r="1.7" fill="#fde3a8" stroke="#f06412" stroke-width="1.0"/><circle cx="427.66" cy="128.35" r="1.7" fill="#fde3a8" stroke="#f06412" stroke-width="1.0"/><circle cx="432.04" cy="129.17" r="1.7" fill="#fde3a8" stroke="#f06412" stroke-width="1.0"/><circle cx="436.42" cy="130.44" r="1.7" fill="#fde3a8" stroke="#f06412" stroke-width="1.0"/><circle cx="440.80" cy="132.04" r="1.7" fill="#fde3a8" stroke="#f06412" stroke-width="1.0"/><circle cx="445.18" cy="133.85" r="1.7" fill="#fde3a8" stroke="#f06412" stroke-width="1.0"/><circle cx="449.56" cy="135.75" r="1.7" fill="#fde3a8" stroke="#f06412" stroke-width="1.0"/><circle cx="453.94" cy="137.65" r="1.7" fill="#fde3a8" stroke="#f06412" stroke-width="1.0"/><circle cx="458.32" cy="139.46" r="1.7" fill="#fde3a8" stroke="#f06412" stroke-width="1.0"/><circle cx="462.70" cy="141.13" r="1.7" fill="#fde3a8" stroke="#f06412" stroke-width="1.0"/><circle cx="467.08" cy="142.62" r="1.7" fill="#fde3a8" stroke="#f06412" stroke-width="1.0"/><circle cx="471.46" cy="143.89" r="1.7" fill="#fde3a8" stroke="#f06412" stroke-width="1.0"/><circle cx="475.84" cy="144.26" r="1.7" fill="#fde3a8" stroke="#f06412" stroke-width="1.0"/><circle cx="480.22" cy="143.43" r="1.7" fill="#fde3a8" stroke="#f06412" stroke-width="1.0"/><circle cx="484.60" cy="142.81" r="1.7" fill="#fde3a8" stroke="#f06412" stroke-width="1.0"/>
<polyline points="313.78,71.04 318.16,82.54 322.54,99.90 326.92,118.28 331.30,135.72 335.68,138.00 340.06,125.06 344.44,114.94 348.82,107.74 353.20,103.36 357.58,101.63 361.96,102.23 366.34,104.82 370.72,108.99 375.10,114.33 379.48,120.42 383.86,126.87 388.24,133.32 392.62,139.47 397.00,144.12 401.38,139.24 405.76,135.21 410.14,132.10 414.52,129.91 418.90,128.61 423.28,128.13 427.66,128.35 432.04,129.17 436.42,130.44 440.80,132.04 445.18,133.85 449.56,135.75 453.94,137.65 458.32,139.46 462.70,141.13 467.08,142.62 471.46,143.89 475.84,144.26 480.22,143.43 484.60,142.81" fill="none" stroke="#f4c03c" stroke-width="0.6" stroke-linejoin="round"/>
<path d="M312.48 71.04h2.6M313.78 69.74v2.6" stroke="#f4bc28" stroke-width="0.65" fill="none"/><path d="M316.86 82.54h2.6M318.16 81.24v2.6" stroke="#f4bc28" stroke-width="0.65" fill="none"/><path d="M321.24 99.90h2.6M322.54 98.60v2.6" stroke="#f4bc28" stroke-width="0.65" fill="none"/><path d="M325.62 118.28h2.6M326.92 116.98v2.6" stroke="#f4bc28" stroke-width="0.65" fill="none"/><path d="M330.00 135.72h2.6M331.30 134.42v2.6" stroke="#f4bc28" stroke-width="0.65" fill="none"/><path d="M334.38 138.00h2.6M335.68 136.70v2.6" stroke="#f4bc28" stroke-width="0.65" fill="none"/><path d="M338.76 125.06h2.6M340.06 123.76v2.6" stroke="#f4bc28" stroke-width="0.65" fill="none"/><path d="M343.14 114.94h2.6M344.44 113.64v2.6" stroke="#f4bc28" stroke-width="0.65" fill="none"/><path d="M347.52 107.74h2.6M348.82 106.44v2.6" stroke="#f4bc28" stroke-width="0.65" fill="none"/><path d="M351.90 103.36h2.6M353.20 102.06v2.6" stroke="#f4bc28" stroke-width="0.65" fill="none"/><path d="M356.28 101.63h2.6M357.58 100.33v2.6" stroke="#f4bc28" stroke-width="0.65" fill="none"/><path d="M360.66 102.23h2.6M361.96 100.93v2.6" stroke="#f4bc28" stroke-width="0.65" fill="none"/><path d="M365.04 104.82h2.6M366.34 103.52v2.6" stroke="#f4bc28" stroke-width="0.65" fill="none"/><path d="M369.42 108.99h2.6M370.72 107.69v2.6" stroke="#f4bc28" stroke-width="0.65" fill="none"/><path d="M373.80 114.33h2.6M375.10 113.03v2.6" stroke="#f4bc28" stroke-width="0.65" fill="none"/><path d="M378.18 120.42h2.6M379.48 119.12v2.6" stroke="#f4bc28" stroke-width="0.65" fill="none"/><path d="M382.56 126.87h2.6M383.86 125.57v2.6" stroke="#f4bc28" stroke-width="0.65" fill="none"/><path d="M386.94 133.32h2.6M388.24 132.02v2.6" stroke="#f4bc28" stroke-width="0.65" fill="none"/><path d="M391.32 139.47h2.6M392.62 138.17v2.6" stroke="#f4bc28" stroke-width="0.65" fill="none"/><path d="M395.70 144.12h2.6M397.00 142.82v2.6" stroke="#f4bc28" stroke-width="0.65" fill="none"/><path d="M400.08 139.24h2.6M401.38 137.94v2.6" stroke="#f4bc28" stroke-width="0.65" fill="none"/><path d="M404.46 135.21h2.6M405.76 133.91v2.6" stroke="#f4bc28" stroke-width="0.65" fill="none"/><path d="M408.84 132.10h2.6M410.14 130.80v2.6" stroke="#f4bc28" stroke-width="0.65" fill="none"/><path d="M413.22 129.91h2.6M414.52 128.61v2.6" stroke="#f4bc28" stroke-width="0.65" fill="none"/><path d="M417.60 128.61h2.6M418.90 127.31v2.6" stroke="#f4bc28" stroke-width="0.65" fill="none"/><path d="M421.98 128.13h2.6M423.28 126.83v2.6" stroke="#f4bc28" stroke-width="0.65" fill="none"/><path d="M426.36 128.35h2.6M427.66 127.05v2.6" stroke="#f4bc28" stroke-width="0.65" fill="none"/><path d="M430.74 129.17h2.6M432.04 127.87v2.6" stroke="#f4bc28" stroke-width="0.65" fill="none"/><path d="M435.12 130.44h2.6M436.42 129.14v2.6" stroke="#f4bc28" stroke-width="0.65" fill="none"/><path d="M439.50 132.04h2.6M440.80 130.74v2.6" stroke="#f4bc28" stroke-width="0.65" fill="none"/><path d="M443.88 133.85h2.6M445.18 132.55v2.6" stroke="#f4bc28" stroke-width="0.65" fill="none"/><path d="M448.26 135.75h2.6M449.56 134.45v2.6" stroke="#f4bc28" stroke-width="0.65" fill="none"/><path d="M452.64 137.65h2.6M453.94 136.35v2.6" stroke="#f4bc28" stroke-width="0.65" fill="none"/><path d="M457.02 139.46h2.6M458.32 138.16v2.6" stroke="#f4bc28" stroke-width="0.65" fill="none"/><path d="M461.40 141.13h2.6M462.70 139.83v2.6" stroke="#f4bc28" stroke-width="0.65" fill="none"/><path d="M465.78 142.62h2.6M467.08 141.32v2.6" stroke="#f4bc28" stroke-width="0.65" fill="none"/><path d="M470.16 143.89h2.6M471.46 142.59v2.6" stroke="#f4bc28" stroke-width="0.65" fill="none"/><path d="M474.54 144.26h2.6M475.84 142.96v2.6" stroke="#f4bc28" stroke-width="0.65" fill="none"/><path d="M478.92 143.43h2.6M480.22 142.13v2.6" stroke="#f4bc28" stroke-width="0.65" fill="none"/><path d="M483.30 142.81h2.6M484.60 141.51v2.6" stroke="#f4bc28" stroke-width="0.65" fill="none"/>
<polyline points="313.78,135.32 318.16,131.35 322.54,129.69 326.92,129.58 331.30,130.56 335.68,132.33 340.06,134.63 344.44,137.25 348.82,140.02 353.20,142.79 357.58,143.76 361.96,141.33 366.34,139.20 370.72,137.40 375.10,135.98 379.48,134.95 383.86,134.29 388.24,133.99 392.62,134.02 397.00,134.34 401.38,134.90 405.76,135.65 410.14,136.55 414.52,137.55 418.90,138.60 423.28,139.67 427.66,140.71 432.04,141.70 436.42,142.62 440.80,143.45 445.18,144.18 449.56,144.39 453.94,143.88 458.32,143.47 462.70,143.15 467.08,142.93 471.46,142.79 475.84,142.72 480.22,142.70 484.60,142.74" fill="none" stroke="#9038a8" stroke-width="0.6" stroke-linejoin="round"/>
<path d="M312.28 133.52L315.68 135.32L312.28 137.12Z" fill="none" stroke="#8a2ea2" stroke-width="0.8"/><path d="M316.66 129.55L320.06 131.35L316.66 133.15Z" fill="none" stroke="#8a2ea2" stroke-width="0.8"/><path d="M321.04 127.89L324.44 129.69L321.04 131.49Z" fill="none" stroke="#8a2ea2" stroke-width="0.8"/><path d="M325.42 127.78L328.82 129.58L325.42 131.38Z" fill="none" stroke="#8a2ea2" stroke-width="0.8"/><path d="M329.80 128.76L333.20 130.56L329.80 132.36Z" fill="none" stroke="#8a2ea2" stroke-width="0.8"/><path d="M334.18 130.53L337.58 132.33L334.18 134.13Z" fill="none" stroke="#8a2ea2" stroke-width="0.8"/><path d="M338.56 132.83L341.96 134.63L338.56 136.43Z" fill="none" stroke="#8a2ea2" stroke-width="0.8"/><path d="M342.94 135.45L346.34 137.25L342.94 139.05Z" fill="none" stroke="#8a2ea2" stroke-width="0.8"/><path d="M347.32 138.22L350.72 140.02L347.32 141.82Z" fill="none" stroke="#8a2ea2" stroke-width="0.8"/><path d="M351.70 140.99L355.10 142.79L351.70 144.59Z" fill="none" stroke="#8a2ea2" stroke-width="0.8"/><path d="M356.08 141.96L359.48 143.76L356.08 145.56Z" fill="none" stroke="#8a2ea2" stroke-width="0.8"/><path d="M360.46 139.53L363.86 141.33L360.46 143.13Z" fill="none" stroke="#8a2ea2" stroke-width="0.8"/><path d="M364.84 137.40L368.24 139.20L364.84 141.00Z" fill="none" stroke="#8a2ea2" stroke-width="0.8"/><path d="M369.22 135.60L372.62 137.40L369.22 139.20Z" fill="none" stroke="#8a2ea2" stroke-width="0.8"/><path d="M373.60 134.18L377.00 135.98L373.60 137.78Z" fill="none" stroke="#8a2ea2" stroke-width="0.8"/><path d="M377.98 133.15L381.38 134.95L377.98 136.75Z" fill="none" stroke="#8a2ea2" stroke-width="0.8"/><path d="M382.36 132.49L385.76 134.29L382.36 136.09Z" fill="none" stroke="#8a2ea2" stroke-width="0.8"/><path d="M386.74 132.19L390.14 133.99L386.74 135.79Z" fill="none" stroke="#8a2ea2" stroke-width="0.8"/><path d="M391.12 132.22L394.52 134.02L391.12 135.82Z" fill="none" stroke="#8a2ea2" stroke-width="0.8"/><path d="M395.50 132.54L398.90 134.34L395.50 136.14Z" fill="none" stroke="#8a2ea2" stroke-width="0.8"/><path d="M399.88 133.10L403.28 134.90L399.88 136.70Z" fill="none" stroke="#8a2ea2" stroke-width="0.8"/><path d="M404.26 133.85L407.66 135.65L404.26 137.45Z" fill="none" stroke="#8a2ea2" stroke-width="0.8"/><path d="M408.64 134.75L412.04 136.55L408.64 138.35Z" fill="none" stroke="#8a2ea2" stroke-width="0.8"/><path d="M413.02 135.75L416.42 137.55L413.02 139.35Z" fill="none" stroke="#8a2ea2" stroke-width="0.8"/><path d="M417.40 136.80L420.80 138.60L417.40 140.40Z" fill="none" stroke="#8a2ea2" stroke-width="0.8"/><path d="M421.78 137.87L425.18 139.67L421.78 141.47Z" fill="none" stroke="#8a2ea2" stroke-width="0.8"/><path d="M426.16 138.91L429.56 140.71L426.16 142.51Z" fill="none" stroke="#8a2ea2" stroke-width="0.8"/><path d="M430.54 139.90L433.94 141.70L430.54 143.50Z" fill="none" stroke="#8a2ea2" stroke-width="0.8"/><path d="M434.92 140.82L438.32 142.62L434.92 144.42Z" fill="none" stroke="#8a2ea2" stroke-width="0.8"/><path d="M439.30 141.65L442.70 143.45L439.30 145.25Z" fill="none" stroke="#8a2ea2" stroke-width="0.8"/><path d="M443.68 142.38L447.08 144.18L443.68 145.98Z" fill="none" stroke="#8a2ea2" stroke-width="0.8"/><path d="M448.06 142.59L451.46 144.39L448.06 146.19Z" fill="none" stroke="#8a2ea2" stroke-width="0.8"/><path d="M452.44 142.08L455.84 143.88L452.44 145.68Z" fill="none" stroke="#8a2ea2" stroke-width="0.8"/><path d="M456.82 141.67L460.22 143.47L456.82 145.27Z" fill="none" stroke="#8a2ea2" stroke-width="0.8"/><path d="M461.20 141.35L464.60 143.15L461.20 144.95Z" fill="none" stroke="#8a2ea2" stroke-width="0.8"/><path d="M465.58 141.13L468.98 142.93L465.58 144.73Z" fill="none" stroke="#8a2ea2" stroke-width="0.8"/><path d="M469.96 140.99L473.36 142.79L469.96 144.59Z" fill="none" stroke="#8a2ea2" stroke-width="0.8"/><path d="M474.34 140.92L477.74 142.72L474.34 144.52Z" fill="none" stroke="#8a2ea2" stroke-width="0.8"/><path d="M478.72 140.90L482.12 142.70L478.72 144.50Z" fill="none" stroke="#8a2ea2" stroke-width="0.8"/><path d="M483.10 140.94L486.50 142.74L483.10 144.54Z" fill="none" stroke="#8a2ea2" stroke-width="0.8"/>
<rect x="364.80" y="11.70" width="116.50" height="36.50" fill="#fff" stroke="#a0a0a0" stroke-width="1.1"/>
<path d="M366.10 16.70H378.40" stroke="#3890e0" stroke-width="0.65"/>
<rect x="370.90" y="15.40" width="2.8" height="2.6" fill="#0f68c0"/>
<text transform="translate(380.30 18.25) scale(1.0 1)" font-size="5.1">Estimation of k-μ</text>
<text transform="translate(418.73 20.65) scale(1.0 1)" font-size="3.8">Yacoub</text>
<text transform="translate(432.74 18.25) scale(0.93 1)" font-size="5.1"><tspan font-style="italic">k</tspan>=2.6975<tspan dx="2.4" font-style="italic">μ</tspan>=0.49115</text>
<path d="M366.10 25.45H378.40" stroke="#f08030" stroke-width="0.65"/>
<circle cx="372.30" cy="25.45" r="1.7" fill="#fde3a8" stroke="#f06412" stroke-width="1.0"/>
<text transform="translate(380.30 27.00) scale(1.0 1)" font-size="5.1">Estimation of k-μ</text>
<text transform="translate(418.73 29.40) scale(1.0 1)" font-size="3.8">Δ</text>
<text transform="translate(422.67 27.00) scale(0.93 1)" font-size="5.1"><tspan font-style="italic">k</tspan>=1.6588<tspan dx="2.4" font-style="italic">μ</tspan>=0.65014</text>
<path d="M366.10 34.20H378.40" stroke="#f4c03c" stroke-width="0.65"/>
<path d="M371.00 34.20h2.6M372.30 32.90v2.6" stroke="#f4bc28" stroke-width="0.65" fill="none"/>
<text transform="translate(380.30 35.75) scale(1.0 1)" font-size="5.1">Estimation of k-μ</text>
<text transform="translate(418.73 38.15) scale(1.0 1)" font-size="3.8">A</text>
<text transform="translate(422.67 35.75) scale(0.93 1)" font-size="5.1"><tspan font-style="italic">k</tspan>=1.6588<tspan dx="2.4" font-style="italic">μ</tspan>=0.65014</text>
<path d="M366.10 42.95H378.40" stroke="#9038a8" stroke-width="0.65"/>
<path d="M370.80 41.15L374.20 42.95L370.80 44.75Z" fill="none" stroke="#8a2ea2" stroke-width="0.8"/>
<text transform="translate(380.30 44.50) scale(1.0 1)" font-size="5.1">Estimation of k-μ</text>
<text transform="translate(418.73 46.90) scale(1.0 1)" font-size="3.8">B</text>
<text transform="translate(422.67 44.50) scale(0.93 1)" font-size="5.1"><tspan font-style="italic">k</tspan>=0.069036<tspan dx="2.4" font-style="italic">μ</tspan>=1.06</text>
<path d="M24.40 330.50v-1.75M24.40 191.00v1.75M41.92 330.50v-1.75M41.92 191.00v1.75M59.44 330.50v-1.75M59.44 191.00v1.75M76.96 330.50v-1.75M76.96 191.00v1.75M94.48 330.50v-1.75M94.48 191.00v1.75M112.00 330.50v-1.75M112.00 191.00v1.75M129.52 330.50v-1.75M129.52 191.00v1.75M147.04 330.50v-1.75M147.04 191.00v1.75M164.56 330.50v-1.75M164.56 191.00v1.75M182.08 330.50v-1.75M182.08 191.00v1.75M199.60 330.50v-1.75M199.60 191.00v1.75M24.40 330.50h1.75M199.60 330.50h-1.75M24.40 307.25h1.75M199.60 307.25h-1.75M24.40 284.00h1.75M199.60 284.00h-1.75M24.40 260.75h1.75M199.60 260.75h-1.75M24.40 237.50h1.75M199.60 237.50h-1.75M24.40 214.25h1.75M199.60 214.25h-1.75M24.40 191.00h1.75M199.60 191.00h-1.75" stroke="#262626" stroke-width="0.6" fill="none"/>
<rect x="24.40" y="191.00" width="175.20" height="139.50" fill="none" stroke="#a0a0a0" stroke-width="1.1"/>
<text transform="translate(24.40 338.60) scale(0.87 1)" class="tk" text-anchor="middle" font-size="6.2">0</text>
<text transform="translate(41.92 338.60) scale(0.87 1)" class="tk" text-anchor="middle" font-size="6.2">0.2</text>
<text transform="translate(59.44 338.60) scale(0.87 1)" class="tk" text-anchor="middle" font-size="6.2">0.4</text>
<text transform="translate(76.96 338.60) scale(0.87 1)" class="tk" text-anchor="middle" font-size="6.2">0.6</text>
<text transform="translate(94.48 338.60) scale(0.87 1)" class="tk" text-anchor="middle" font-size="6.2">0.8</text>
<text transform="translate(112.00 338.60) scale(0.87 1)" class="tk" text-anchor="middle" font-size="6.2">1</text>
<text transform="translate(129.52 338.60) scale(0.87 1)" class="tk" text-anchor="middle" font-size="6.2">1.2</text>
<text transform="translate(147.04 338.60) scale(0.87 1)" class="tk" text-anchor="middle" font-size="6.2">1.4</text>
<text transform="translate(164.56 338.60) scale(0.87 1)" class="tk" text-anchor="middle" font-size="6.2">1.6</text>
<text transform="translate(182.08 338.60) scale(0.87 1)" class="tk" text-anchor="middle" font-size="6.2">1.8</text>
<text transform="translate(199.60 338.60) scale(0.87 1)" class="tk" text-anchor="middle" font-size="6.2">2</text>
<text transform="translate(21.80 332.73) scale(0.87 1)" class="tk" text-anchor="end" font-size="6.2">0</text>
<text transform="translate(21.80 309.48) scale(0.87 1)" class="tk" text-anchor="end" font-size="6.2">0.2</text>
<text transform="translate(21.80 286.23) scale(0.87 1)" class="tk" text-anchor="end" font-size="6.2">0.4</text>
<text transform="translate(21.80 262.98) scale(0.87 1)" class="tk" text-anchor="end" font-size="6.2">0.6</text>
<text transform="translate(21.80 239.73) scale(0.87 1)" class="tk" text-anchor="end" font-size="6.2">0.8</text>
<text transform="translate(21.80 216.48) scale(0.87 1)" class="tk" text-anchor="end" font-size="6.2">1</text>
<text transform="translate(21.80 193.23) scale(0.87 1)" class="tk" text-anchor="end" font-size="6.2">1.2</text>
<text transform="translate(112.00 347.20) scale(0.965 1)" text-anchor="middle" font-size="6.3">Envelope <tspan font-style="italic">r</tspan></text>
<text transform="translate(11.00 260.75) rotate(-90) scale(1.0 1.0)" text-anchor="middle" font-size="6.1">PDF values of parameters <tspan font-style="italic">k</tspan> and <tspan font-style="italic">μ</tspan></text>
<g>
<polyline points="28.78,329.30 33.16,325.75 37.54,320.02 41.92,312.34 46.30,303.07 50.68,292.60 55.06,281.37 59.44,269.84 63.82,258.47 68.20,247.69 72.58,237.89 76.96,229.39 81.34,222.45 85.72,217.26 90.10,213.90 94.48,212.39 98.86,212.69 103.24,214.67 107.62,218.16 112.00,222.96 116.38,228.83 120.76,235.54 125.14,242.82 129.52,250.46 133.90,258.23 138.28,265.94 142.66,273.43 147.04,280.56 151.42,287.24 155.80,293.39 160.18,298.98 164.56,303.98 168.94,308.40 173.32,312.25 177.70,315.57 182.08,318.40 186.46,320.78 190.84,322.76 195.22,324.39 199.60,325.72" fill="none" stroke="#2a2a2a" stroke-width="0.75" stroke-linejoin="round"/>
<polyline points="28.78,324.72 33.16,317.85 37.54,310.45 41.92,302.64 46.30,294.50 50.68,286.10 55.06,277.56 59.44,268.98 63.82,260.53 68.20,252.39 72.58,244.74 76.96,237.80 81.34,231.75 85.72,226.78 90.10,223.04 94.48,220.65 98.86,219.67 103.24,220.13 107.62,221.98 112.00,225.15 116.38,229.51 120.76,234.89 125.14,241.11 129.52,247.95 133.90,255.20 138.28,262.66 142.66,270.12 147.04,277.41 151.42,284.38 155.80,290.92 160.18,296.94 164.56,302.39 168.94,307.23 173.32,311.47 177.70,315.12 182.08,318.22 186.46,320.81 190.84,322.94 195.22,324.68 199.60,326.07" fill="none" stroke="#3890e0" stroke-width="0.6" stroke-linejoin="round"/>
<rect x="27.38" y="323.42" width="2.8" height="2.6" fill="#0f68c0"/><rect x="31.76" y="316.55" width="2.8" height="2.6" fill="#0f68c0"/><rect x="36.14" y="309.15" width="2.8" height="2.6" fill="#0f68c0"/><rect x="40.52" y="301.34" width="2.8" height="2.6" fill="#0f68c0"/><rect x="44.90" y="293.20" width="2.8" height="2.6" fill="#0f68c0"/><rect x="49.28" y="284.80" width="2.8" height="2.6" fill="#0f68c0"/><rect x="53.66" y="276.26" width="2.8" height="2.6" fill="#0f68c0"/><rect x="58.04" y="267.68" width="2.8" height="2.6" fill="#0f68c0"/><rect x="62.42" y="259.23" width="2.8" height="2.6" fill="#0f68c0"/><rect x="66.80" y="251.09" width="2.8" height="2.6" fill="#0f68c0"/><rect x="71.18" y="243.44" width="2.8" height="2.6" fill="#0f68c0"/><rect x="75.56" y="236.50" width="2.8" height="2.6" fill="#0f68c0"/><rect x="79.94" y="230.45" width="2.8" height="2.6" fill="#0f68c0"/><rect x="84.32" y="225.48" width="2.8" height="2.6" fill="#0f68c0"/><rect x="88.70" y="221.74" width="2.8" height="2.6" fill="#0f68c0"/><rect x="93.08" y="219.35" width="2.8" height="2.6" fill="#0f68c0"/><rect x="97.46" y="218.37" width="2.8" height="2.6" fill="#0f68c0"/><rect x="101.84" y="218.83" width="2.8" height="2.6" fill="#0f68c0"/><rect x="106.22" y="220.68" width="2.8" height="2.6" fill="#0f68c0"/><rect x="110.60" y="223.85" width="2.8" height="2.6" fill="#0f68c0"/><rect x="114.98" y="228.21" width="2.8" height="2.6" fill="#0f68c0"/><rect x="119.36" y="233.59" width="2.8" height="2.6" fill="#0f68c0"/><rect x="123.74" y="239.81" width="2.8" height="2.6" fill="#0f68c0"/><rect x="128.12" y="246.65" width="2.8" height="2.6" fill="#0f68c0"/><rect x="132.50" y="253.90" width="2.8" height="2.6" fill="#0f68c0"/><rect x="136.88" y="261.36" width="2.8" height="2.6" fill="#0f68c0"/><rect x="141.26" y="268.82" width="2.8" height="2.6" fill="#0f68c0"/><rect x="145.64" y="276.11" width="2.8" height="2.6" fill="#0f68c0"/><rect x="150.02" y="283.08" width="2.8" height="2.6" fill="#0f68c0"/><rect x="154.40" y="289.62" width="2.8" height="2.6" fill="#0f68c0"/><rect x="158.78" y="295.64" width="2.8" height="2.6" fill="#0f68c0"/><rect x="163.16" y="301.09" width="2.8" height="2.6" fill="#0f68c0"/><rect x="167.54" y="305.93" width="2.8" height="2.6" fill="#0f68c0"/><rect x="171.92" y="310.17" width="2.8" height="2.6" fill="#0f68c0"/><rect x="176.30" y="313.82" width="2.8" height="2.6" fill="#0f68c0"/><rect x="180.68" y="316.92" width="2.8" height="2.6" fill="#0f68c0"/><rect x="185.06" y="319.51" width="2.8" height="2.6" fill="#0f68c0"/><rect x="189.44" y="321.64" width="2.8" height="2.6" fill="#0f68c0"/><rect x="193.82" y="323.38" width="2.8" height="2.6" fill="#0f68c0"/><rect x="198.20" y="324.77" width="2.8" height="2.6" fill="#0f68c0"/>
<polyline points="28.78,327.99 33.16,322.91 37.54,316.11 41.92,308.00 46.30,298.94 50.68,289.22 55.06,279.15 59.44,269.02 63.82,259.12 68.20,249.74 72.58,241.13 76.96,233.53 81.34,227.14 85.72,222.13 90.10,218.61 94.48,216.65 98.86,216.27 103.24,217.41 107.62,220.00 112.00,223.89 116.38,228.91 120.76,234.88 125.14,241.58 129.52,248.79 133.90,256.29 138.28,263.89 142.66,271.39 147.04,278.65 151.42,285.54 155.80,291.95 160.18,297.81 164.56,303.10 168.94,307.78 173.32,311.88 177.70,315.40 182.08,318.39 186.46,320.90 190.84,322.97 195.22,324.66 199.60,326.02" fill="none" stroke="#f08030" stroke-width="0.6" stroke-linejoin="round"/>
<circle cx="28.78" cy="327.99" r="1.7" fill="#fde3a8" stroke="#f06412" stroke-width="1.0"/><circle cx="33.16" cy="322.91" r="1.7" fill="#fde3a8" stroke="#f06412" stroke-width="1.0"/><circle cx="37.54" cy="316.11" r="1.7" fill="#fde3a8" stroke="#f06412" stroke-width="1.0"/><circle cx="41.92" cy="308.00" r="1.7" fill="#fde3a8" stroke="#f06412" stroke-width="1.0"/><circle cx="46.30" cy="298.94" r="1.7" fill="#fde3a8" stroke="#f06412" stroke-width="1.0"/><circle cx="50.68" cy="289.22" r="1.7" fill="#fde3a8" stroke="#f06412" stroke-width="1.0"/><circle cx="55.06" cy="279.15" r="1.7" fill="#fde3a8" stroke="#f06412" stroke-width="1.0"/><circle cx="59.44" cy="269.02" r="1.7" fill="#fde3a8" stroke="#f06412" stroke-width="1.0"/><circle cx="63.82" cy="259.12" r="1.7" fill="#fde3a8" stroke="#f06412" stroke-width="1.0"/><circle cx="68.20" cy="249.74" r="1.7" fill="#fde3a8" stroke="#f06412" stroke-width="1.0"/><circle cx="72.58" cy="241.13" r="1.7" fill="#fde3a8" stroke="#f06412" stroke-width="1.0"/><circle cx="76.96" cy="233.53" r="1.7" fill="#fde3a8" stroke="#f06412" stroke-width="1.0"/><circle cx="81.34" cy="227.14" r="1.7" fill="#fde3a8" stroke="#f06412" stroke-width="1.0"/><circle cx="85.72" cy="222.13" r="1.7" fill="#fde3a8" stroke="#f06412" stroke-width="1.0"/><circle cx="90.10" cy="218.61" r="1.7" fill="#fde3a8" stroke="#f06412" stroke-width="1.0"/><circle cx="94.48" cy="216.65" r="1.7" fill="#fde3a8" stroke="#f06412" stroke-width="1.0"/><circle cx="98.86" cy="216.27" r="1.7" fill="#fde3a8" stroke="#f06412" stroke-width="1.0"/><circle cx="103.24" cy="217.41" r="1.7" fill="#fde3a8" stroke="#f06412" stroke-width="1.0"/><circle cx="107.62" cy="220.00" r="1.7" fill="#fde3a8" stroke="#f06412" stroke-width="1.0"/><circle cx="112.00" cy="223.89" r="1.7" fill="#fde3a8" stroke="#f06412" stroke-width="1.0"/><circle cx="116.38" cy="228.91" r="1.7" fill="#fde3a8" stroke="#f06412" stroke-width="1.0"/><circle cx="120.76" cy="234.88" r="1.7" fill="#fde3a8" stroke="#f06412" stroke-width="1.0"/><circle cx="125.14" cy="241.58" r="1.7" fill="#fde3a8" stroke="#f06412" stroke-width="1.0"/><circle cx="129.52" cy="248.79" r="1.7" fill="#fde3a8" stroke="#f06412" stroke-width="1.0"/><circle cx="133.90" cy="256.29" r="1.7" fill="#fde3a8" stroke="#f06412" stroke-width="1.0"/><circle cx="138.28" cy="263.89" r="1.7" fill="#fde3a8" stroke="#f06412" stroke-width="1.0"/><circle cx="142.66" cy="271.39" r="1.7" fill="#fde3a8" stroke="#f06412" stroke-width="1.0"/><circle cx="147.04" cy="278.65" r="1.7" fill="#fde3a8" stroke="#f06412" stroke-width="1.0"/><circle cx="151.42" cy="285.54" r="1.7" fill="#fde3a8" stroke="#f06412" stroke-width="1.0"/><circle cx="155.80" cy="291.95" r="1.7" fill="#fde3a8" stroke="#f06412" stroke-width="1.0"/><circle cx="160.18" cy="297.81" r="1.7" fill="#fde3a8" stroke="#f06412" stroke-width="1.0"/><circle cx="164.56" cy="303.10" r="1.7" fill="#fde3a8" stroke="#f06412" stroke-width="1.0"/><circle cx="168.94" cy="307.78" r="1.7" fill="#fde3a8" stroke="#f06412" stroke-width="1.0"/><circle cx="173.32" cy="311.88" r="1.7" fill="#fde3a8" stroke="#f06412" stroke-width="1.0"/><circle cx="177.70" cy="315.40" r="1.7" fill="#fde3a8" stroke="#f06412" stroke-width="1.0"/><circle cx="182.08" cy="318.39" r="1.7" fill="#fde3a8" stroke="#f06412" stroke-width="1.0"/><circle cx="186.46" cy="320.90" r="1.7" fill="#fde3a8" stroke="#f06412" stroke-width="1.0"/><circle cx="190.84" cy="322.97" r="1.7" fill="#fde3a8" stroke="#f06412" stroke-width="1.0"/><circle cx="195.22" cy="324.66" r="1.7" fill="#fde3a8" stroke="#f06412" stroke-width="1.0"/><circle cx="199.60" cy="326.02" r="1.7" fill="#fde3a8" stroke="#f06412" stroke-width="1.0"/>
<polyline points="28.78,327.99 33.16,322.91 37.54,316.11 41.92,308.00 46.30,298.94 50.68,289.22 55.06,279.15 59.44,269.02 63.82,259.12 68.20,249.74 72.58,241.13 76.96,233.53 81.34,227.14 85.72,222.13 90.10,218.61 94.48,216.65 98.86,216.27 103.24,217.41 107.62,220.00 112.00,223.89 116.38,228.91 120.76,234.88 125.14,241.58 129.52,248.79 133.90,256.29 138.28,263.89 142.66,271.39 147.04,278.65 151.42,285.54 155.80,291.95 160.18,297.81 164.56,303.10 168.94,307.78 173.32,311.88 177.70,315.40 182.08,318.39 186.46,320.90 190.84,322.97 195.22,324.66 199.60,326.02" fill="none" stroke="#f4c03c" stroke-width="0.6" stroke-linejoin="round"/>
<path d="M27.48 327.99h2.6M28.78 326.69v2.6" stroke="#f4bc28" stroke-width="0.65" fill="none"/><path d="M31.86 322.91h2.6M33.16 321.61v2.6" stroke="#f4bc28" stroke-width="0.65" fill="none"/><path d="M36.24 316.11h2.6M37.54 314.81v2.6" stroke="#f4bc28" stroke-width="0.65" fill="none"/><path d="M40.62 308.00h2.6M41.92 306.70v2.6" stroke="#f4bc28" stroke-width="0.65" fill="none"/><path d="M45.00 298.94h2.6M46.30 297.64v2.6" stroke="#f4bc28" stroke-width="0.65" fill="none"/><path d="M49.38 289.22h2.6M50.68 287.92v2.6" stroke="#f4bc28" stroke-width="0.65" fill="none"/><path d="M53.76 279.15h2.6M55.06 277.85v2.6" stroke="#f4bc28" stroke-width="0.65" fill="none"/><path d="M58.14 269.02h2.6M59.44 267.72v2.6" stroke="#f4bc28" stroke-width="0.65" fill="none"/><path d="M62.52 259.12h2.6M63.82 257.82v2.6" stroke="#f4bc28" stroke-width="0.65" fill="none"/><path d="M66.90 249.74h2.6M68.20 248.44v2.6" stroke="#f4bc28" stroke-width="0.65" fill="none"/><path d="M71.28 241.13h2.6M72.58 239.83v2.6" stroke="#f4bc28" stroke-width="0.65" fill="none"/><path d="M75.66 233.53h2.6M76.96 232.23v2.6" stroke="#f4bc28" stroke-width="0.65" fill="none"/><path d="M80.04 227.14h2.6M81.34 225.84v2.6" stroke="#f4bc28" stroke-width="0.65" fill="none"/><path d="M84.42 222.13h2.6M85.72 220.83v2.6" stroke="#f4bc28" stroke-width="0.65" fill="none"/><path d="M88.80 218.61h2.6M90.10 217.31v2.6" stroke="#f4bc28" stroke-width="0.65" fill="none"/><path d="M93.18 216.65h2.6M94.48 215.35v2.6" stroke="#f4bc28" stroke-width="0.65" fill="none"/><path d="M97.56 216.27h2.6M98.86 214.97v2.6" stroke="#f4bc28" stroke-width="0.65" fill="none"/><path d="M101.94 217.41h2.6M103.24 216.11v2.6" stroke="#f4bc28" stroke-width="0.65" fill="none"/><path d="M106.32 220.00h2.6M107.62 218.70v2.6" stroke="#f4bc28" stroke-width="0.65" fill="none"/><path d="M110.70 223.89h2.6M112.00 222.59v2.6" stroke="#f4bc28" stroke-width="0.65" fill="none"/><path d="M115.08 228.91h2.6M116.38 227.61v2.6" stroke="#f4bc28" stroke-width="0.65" fill="none"/><path d="M119.46 234.88h2.6M120.76 233.58v2.6" stroke="#f4bc28" stroke-width="0.65" fill="none"/><path d="M123.84 241.58h2.6M125.14 240.28v2.6" stroke="#f4bc28" stroke-width="0.65" fill="none"/><path d="M128.22 248.79h2.6M129.52 247.49v2.6" stroke="#f4bc28" stroke-width="0.65" fill="none"/><path d="M132.60 256.29h2.6M133.90 254.99v2.6" stroke="#f4bc28" stroke-width="0.65" fill="none"/><path d="M136.98 263.89h2.6M138.28 262.59v2.6" stroke="#f4bc28" stroke-width="0.65" fill="none"/><path d="M141.36 271.39h2.6M142.66 270.09v2.6" stroke="#f4bc28" stroke-width="0.65" fill="none"/><path d="M145.74 278.65h2.6M147.04 277.35v2.6" stroke="#f4bc28" stroke-width="0.65" fill="none"/><path d="M150.12 285.54h2.6M151.42 284.24v2.6" stroke="#f4bc28" stroke-width="0.65" fill="none"/><path d="M154.50 291.95h2.6M155.80 290.65v2.6" stroke="#f4bc28" stroke-width="0.65" fill="none"/><path d="M158.88 297.81h2.6M160.18 296.51v2.6" stroke="#f4bc28" stroke-width="0.65" fill="none"/><path d="M163.26 303.10h2.6M164.56 301.80v2.6" stroke="#f4bc28" stroke-width="0.65" fill="none"/><path d="M167.64 307.78h2.6M168.94 306.48v2.6" stroke="#f4bc28" stroke-width="0.65" fill="none"/><path d="M172.02 311.88h2.6M173.32 310.58v2.6" stroke="#f4bc28" stroke-width="0.65" fill="none"/><path d="M176.40 315.40h2.6M177.70 314.10v2.6" stroke="#f4bc28" stroke-width="0.65" fill="none"/><path d="M180.78 318.39h2.6M182.08 317.09v2.6" stroke="#f4bc28" stroke-width="0.65" fill="none"/><path d="M185.16 320.90h2.6M186.46 319.60v2.6" stroke="#f4bc28" stroke-width="0.65" fill="none"/><path d="M189.54 322.97h2.6M190.84 321.67v2.6" stroke="#f4bc28" stroke-width="0.65" fill="none"/><path d="M193.92 324.66h2.6M195.22 323.36v2.6" stroke="#f4bc28" stroke-width="0.65" fill="none"/><path d="M198.30 326.02h2.6M199.60 324.72v2.6" stroke="#f4bc28" stroke-width="0.65" fill="none"/>
<polyline points="28.78,329.39 33.16,326.01 37.54,320.45 41.92,312.93 46.30,303.76 50.68,293.34 55.06,282.10 59.44,270.51 63.82,259.03 68.20,248.10 72.58,238.13 76.96,229.45 81.34,222.33 85.72,216.97 90.10,213.46 94.48,211.83 98.86,212.04 103.24,213.97 107.62,217.44 112.00,222.25 116.38,228.17 120.76,234.93 125.14,242.30 129.52,250.02 133.90,257.88 138.28,265.68 142.66,273.25 147.04,280.46 151.42,287.21 155.80,293.42 160.18,299.05 164.56,304.09 168.94,308.53 173.32,312.40 177.70,315.72 182.08,318.55 186.46,320.92 190.84,322.89 195.22,324.51 199.60,325.83" fill="none" stroke="#9038a8" stroke-width="0.6" stroke-linejoin="round"/>
<path d="M27.28 327.59L30.68 329.39L27.28 331.19Z" fill="none" stroke="#8a2ea2" stroke-width="0.8"/><path d="M31.66 324.21L35.06 326.01L31.66 327.81Z" fill="none" stroke="#8a2ea2" stroke-width="0.8"/><path d="M36.04 318.65L39.44 320.45L36.04 322.25Z" fill="none" stroke="#8a2ea2" stroke-width="0.8"/><path d="M40.42 311.13L43.82 312.93L40.42 314.73Z" fill="none" stroke="#8a2ea2" stroke-width="0.8"/><path d="M44.80 301.96L48.20 303.76L44.80 305.56Z" fill="none" stroke="#8a2ea2" stroke-width="0.8"/><path d="M49.18 291.54L52.58 293.34L49.18 295.14Z" fill="none" stroke="#8a2ea2" stroke-width="0.8"/><path d="M53.56 280.30L56.96 282.10L53.56 283.90Z" fill="none" stroke="#8a2ea2" stroke-width="0.8"/><path d="M57.94 268.71L61.34 270.51L57.94 272.31Z" fill="none" stroke="#8a2ea2" stroke-width="0.8"/><path d="M62.32 257.23L65.72 259.03L62.32 260.83Z" fill="none" stroke="#8a2ea2" stroke-width="0.8"/><path d="M66.70 246.30L70.10 248.10L66.70 249.90Z" fill="none" stroke="#8a2ea2" stroke-width="0.8"/><path d="M71.08 236.33L74.48 238.13L71.08 239.93Z" fill="none" stroke="#8a2ea2" stroke-width="0.8"/><path d="M75.46 227.65L78.86 229.45L75.46 231.25Z" fill="none" stroke="#8a2ea2" stroke-width="0.8"/><path d="M79.84 220.53L83.24 222.33L79.84 224.13Z" fill="none" stroke="#8a2ea2" stroke-width="0.8"/><path d="M84.22 215.17L87.62 216.97L84.22 218.77Z" fill="none" stroke="#8a2ea2" stroke-width="0.8"/><path d="M88.60 211.66L92.00 213.46L88.60 215.26Z" fill="none" stroke="#8a2ea2" stroke-width="0.8"/><path d="M92.98 210.03L96.38 211.83L92.98 213.63Z" fill="none" stroke="#8a2ea2" stroke-width="0.8"/><path d="M97.36 210.24L100.76 212.04L97.36 213.84Z" fill="none" stroke="#8a2ea2" stroke-width="0.8"/><path d="M101.74 212.17L105.14 213.97L101.74 215.77Z" fill="none" stroke="#8a2ea2" stroke-width="0.8"/><path d="M106.12 215.64L109.52 217.44L106.12 219.24Z" fill="none" stroke="#8a2ea2" stroke-width="0.8"/><path d="M110.50 220.45L113.90 222.25L110.50 224.05Z" fill="none" stroke="#8a2ea2" stroke-width="0.8"/><path d="M114.88 226.37L118.28 228.17L114.88 229.97Z" fill="none" stroke="#8a2ea2" stroke-width="0.8"/><path d="M119.26 233.13L122.66 234.93L119.26 236.73Z" fill="none" stroke="#8a2ea2" stroke-width="0.8"/><path d="M123.64 240.50L127.04 242.30L123.64 244.10Z" fill="none" stroke="#8a2ea2" stroke-width="0.8"/><path d="M128.02 248.22L131.42 250.02L128.02 251.82Z" fill="none" stroke="#8a2ea2" stroke-width="0.8"/><path d="M132.40 256.08L135.80 257.88L132.40 259.68Z" fill="none" stroke="#8a2ea2" stroke-width="0.8"/><path d="M136.78 263.88L140.18 265.68L136.78 267.48Z" fill="none" stroke="#8a2ea2" stroke-width="0.8"/><path d="M141.16 271.45L144.56 273.25L141.16 275.05Z" fill="none" stroke="#8a2ea2" stroke-width="0.8"/><path d="M145.54 278.66L148.94 280.46L145.54 282.26Z" fill="none" stroke="#8a2ea2" stroke-width="0.8"/><path d="M149.92 285.41L153.32 287.21L149.92 289.01Z" fill="none" stroke="#8a2ea2" stroke-width="0.8"/><path d="M154.30 291.62L157.70 293.42L154.30 295.22Z" fill="none" stroke="#8a2ea2" stroke-width="0.8"/><path d="M158.68 297.25L162.08 299.05L158.68 300.85Z" fill="none" stroke="#8a2ea2" stroke-width="0.8"/><path d="M163.06 302.29L166.46 304.09L163.06 305.89Z" fill="none" stroke="#8a2ea2" stroke-width="0.8"/><path d="M167.44 306.73L170.84 308.53L167.44 310.33Z" fill="none" stroke="#8a2ea2" stroke-width="0.8"/><path d="M171.82 310.60L175.22 312.40L171.82 314.20Z" fill="none" stroke="#8a2ea2" stroke-width="0.8"/><path d="M176.20 313.92L179.60 315.72L176.20 317.52Z" fill="none" stroke="#8a2ea2" stroke-width="0.8"/><path d="M180.58 316.75L183.98 318.55L180.58 320.35Z" fill="none" stroke="#8a2ea2" stroke-width="0.8"/><path d="M184.96 319.12L188.36 320.92L184.96 322.72Z" fill="none" stroke="#8a2ea2" stroke-width="0.8"/><path d="M189.34 321.09L192.74 322.89L189.34 324.69Z" fill="none" stroke="#8a2ea2" stroke-width="0.8"/><path d="M193.72 322.71L197.12 324.51L193.72 326.31Z" fill="none" stroke="#8a2ea2" stroke-width="0.8"/><path d="M198.10 324.03L201.50 325.83L198.10 327.63Z" fill="none" stroke="#8a2ea2" stroke-width="0.8"/>
</g>
<rect x="74.80" y="279.50" width="111.70" height="42.90" fill="#fff" stroke="#a0a0a0" stroke-width="1.1"/>
<path d="M76.10 283.90H88.40" stroke="#3a3a3a" stroke-width="0.8"/>
<text transform="translate(89.40 285.45) scale(0.93 1)" font-size="5.1"><tspan font-style="italic">k</tspan>=0<tspan dx="2.4" font-style="italic">μ</tspan>=1.5</text>
<path d="M76.10 291.30H88.40" stroke="#3890e0" stroke-width="0.65"/>
<rect x="80.90" y="290.00" width="2.8" height="2.6" fill="#0f68c0"/>
<text transform="translate(89.40 292.85) scale(1.0 1)" font-size="5.1">Estimation of k-μ</text>
<text transform="translate(127.83 295.25) scale(1.0 1)" font-size="3.8">Yacoub</text>
<text transform="translate(141.84 292.85) scale(0.93 1)" font-size="5.1"><tspan font-style="italic">k</tspan>=1.1713<tspan dx="2.4" font-style="italic">μ</tspan>=1.0629</text>
<path d="M76.10 300.05H88.40" stroke="#f08030" stroke-width="0.65"/>
<circle cx="82.30" cy="300.05" r="1.7" fill="#fde3a8" stroke="#f06412" stroke-width="1.0"/>
<text transform="translate(89.40 301.60) scale(1.0 1)" font-size="5.1">Estimation of k-μ</text>
<text transform="translate(127.83 304.00) scale(1.0 1)" font-size="3.8">Δ</text>
<text transform="translate(131.77 301.60) scale(0.93 1)" font-size="5.1"><tspan font-style="italic">k</tspan>=0.60691<tspan dx="2.4" font-style="italic">μ</tspan>=1.302</text>
<path d="M76.10 308.80H88.40" stroke="#f4c03c" stroke-width="0.65"/>
<path d="M81.00 308.80h2.6M82.30 307.50v2.6" stroke="#f4bc28" stroke-width="0.65" fill="none"/>
<text transform="translate(89.40 310.35) scale(1.0 1)" font-size="5.1">Estimation of k-μ</text>
<text transform="translate(127.83 312.75) scale(1.0 1)" font-size="3.8">A</text>
<text transform="translate(131.77 310.35) scale(0.93 1)" font-size="5.1"><tspan font-style="italic">k</tspan>=0.60691<tspan dx="2.4" font-style="italic">μ</tspan>=1.302</text>
<path d="M76.10 317.55H88.40" stroke="#9038a8" stroke-width="0.65"/>
<path d="M80.80 315.75L84.20 317.55L80.80 319.35Z" fill="none" stroke="#8a2ea2" stroke-width="0.8"/>
<text transform="translate(89.40 319.10) scale(1.0 1)" font-size="5.1">Estimation of k-μ</text>
<text transform="translate(127.83 321.50) scale(1.0 1)" font-size="3.8">B</text>
<text transform="translate(131.77 319.10) scale(0.93 1)" font-size="5.1"><tspan font-style="italic">k</tspan>=0.037025<tspan dx="2.4" font-style="italic">μ</tspan>=1.5167</text>
<path d="M309.40 330.50v-1.75M309.40 191.00v1.75M326.92 330.50v-1.75M326.92 191.00v1.75M344.44 330.50v-1.75M344.44 191.00v1.75M361.96 330.50v-1.75M361.96 191.00v1.75M379.48 330.50v-1.75M379.48 191.00v1.75M397.00 330.50v-1.75M397.00 191.00v1.75M414.52 330.50v-1.75M414.52 191.00v1.75M432.04 330.50v-1.75M432.04 191.00v1.75M449.56 330.50v-1.75M449.56 191.00v1.75M467.08 330.50v-1.75M467.08 191.00v1.75M484.60 330.50v-1.75M484.60 191.00v1.75M309.40 330.50h1.75M484.60 330.50h-1.75M309.40 315.00h1.75M484.60 315.00h-1.75M309.40 299.50h1.75M484.60 299.50h-1.75M309.40 284.00h1.75M484.60 284.00h-1.75M309.40 268.50h1.75M484.60 268.50h-1.75M309.40 253.00h1.75M484.60 253.00h-1.75M309.40 237.50h1.75M484.60 237.50h-1.75M309.40 222.00h1.75M484.60 222.00h-1.75M309.40 206.50h1.75M484.60 206.50h-1.75M309.40 191.00h1.75M484.60 191.00h-1.75" stroke="#262626" stroke-width="0.6" fill="none"/>
<rect x="309.40" y="191.00" width="175.20" height="139.50" fill="none" stroke="#a0a0a0" stroke-width="1.1"/>
<text transform="translate(309.40 338.60) scale(0.87 1)" class="tk" text-anchor="middle" font-size="6.2">0</text>
<text transform="translate(326.92 338.60) scale(0.87 1)" class="tk" text-anchor="middle" font-size="6.2">0.2</text>
<text transform="translate(344.44 338.60) scale(0.87 1)" class="tk" text-anchor="middle" font-size="6.2">0.4</text>
<text transform="translate(361.96 338.60) scale(0.87 1)" class="tk" text-anchor="middle" font-size="6.2">0.6</text>
<text transform="translate(379.48 338.60) scale(0.87 1)" class="tk" text-anchor="middle" font-size="6.2">0.8</text>
<text transform="translate(397.00 338.60) scale(0.87 1)" class="tk" text-anchor="middle" font-size="6.2">1</text>
<text transform="translate(414.52 338.60) scale(0.87 1)" class="tk" text-anchor="middle" font-size="6.2">1.2</text>
<text transform="translate(432.04 338.60) scale(0.87 1)" class="tk" text-anchor="middle" font-size="6.2">1.4</text>
<text transform="translate(449.56 338.60) scale(0.87 1)" class="tk" text-anchor="middle" font-size="6.2">1.6</text>
<text transform="translate(467.08 338.60) scale(0.87 1)" class="tk" text-anchor="middle" font-size="6.2">1.8</text>
<text transform="translate(484.60 338.60) scale(0.87 1)" class="tk" text-anchor="middle" font-size="6.2">2</text>
<text transform="translate(306.80 332.73) scale(0.87 1)" class="tk" text-anchor="end" font-size="6.2">0</text>
<text transform="translate(306.80 317.23) scale(0.87 1)" class="tk" text-anchor="end" font-size="6.2">0.01</text>
<text transform="translate(306.80 301.73) scale(0.87 1)" class="tk" text-anchor="end" font-size="6.2">0.02</text>
<text transform="translate(306.80 286.23) scale(0.87 1)" class="tk" text-anchor="end" font-size="6.2">0.03</text>
<text transform="translate(306.80 270.73) scale(0.87 1)" class="tk" text-anchor="end" font-size="6.2">0.04</text>
<text transform="translate(306.80 255.23) scale(0.87 1)" class="tk" text-anchor="end" font-size="6.2">0.05</text>
<text transform="translate(306.80 239.73) scale(0.87 1)" class="tk" text-anchor="end" font-size="6.2">0.06</text>
<text transform="translate(306.80 224.23) scale(0.87 1)" class="tk" text-anchor="end" font-size="6.2">0.07</text>
<text transform="translate(306.80 208.73) scale(0.87 1)" class="tk" text-anchor="end" font-size="6.2">0.08</text>
<text transform="translate(306.80 193.23) scale(0.87 1)" class="tk" text-anchor="end" font-size="6.2">0.09</text>
<text transform="translate(397.00 347.20) scale(0.965 1)" text-anchor="middle" font-size="6.3">Envelope <tspan font-style="italic">r</tspan></text>
<text transform="translate(293.00 260.75) rotate(-90) scale(1.0 1.0)" text-anchor="middle" font-size="6.1">Error of theoretical and estimated PDF curves</text>
<polyline points="313.78,269.44 318.16,225.16 322.54,202.95 326.92,201.11 331.30,216.17 335.68,243.87 340.06,279.64 344.44,319.03 348.82,303.01 353.20,267.87 357.58,239.10 361.96,218.41 366.34,206.56 370.72,203.52 375.10,208.56 379.48,220.38 383.86,237.36 388.24,257.69 392.62,279.55 397.00,301.29 401.38,321.49 405.76,321.91 410.14,307.63 414.52,297.04 418.90,290.15 423.28,286.73 427.66,286.35 432.04,288.44 436.42,292.37 440.80,297.52 445.18,303.31 449.56,309.24 453.94,314.92 458.32,320.06 462.70,324.49 467.08,328.12 471.46,330.07 475.84,328.03 480.22,326.67 484.60,325.88" fill="none" stroke="#3890e0" stroke-width="0.6" stroke-linejoin="round"/>
<rect x="312.38" y="268.14" width="2.8" height="2.6" fill="#0f68c0"/><rect x="316.76" y="223.86" width="2.8" height="2.6" fill="#0f68c0"/><rect x="321.14" y="201.65" width="2.8" height="2.6" fill="#0f68c0"/><rect x="325.52" y="199.81" width="2.8" height="2.6" fill="#0f68c0"/><rect x="329.90" y="214.87" width="2.8" height="2.6" fill="#0f68c0"/><rect x="334.28" y="242.57" width="2.8" height="2.6" fill="#0f68c0"/><rect x="338.66" y="278.34" width="2.8" height="2.6" fill="#0f68c0"/><rect x="343.04" y="317.73" width="2.8" height="2.6" fill="#0f68c0"/><rect x="347.42" y="301.71" width="2.8" height="2.6" fill="#0f68c0"/><rect x="351.80" y="266.57" width="2.8" height="2.6" fill="#0f68c0"/><rect x="356.18" y="237.80" width="2.8" height="2.6" fill="#0f68c0"/><rect x="360.56" y="217.11" width="2.8" height="2.6" fill="#0f68c0"/><rect x="364.94" y="205.26" width="2.8" height="2.6" fill="#0f68c0"/><rect x="369.32" y="202.22" width="2.8" height="2.6" fill="#0f68c0"/><rect x="373.70" y="207.26" width="2.8" height="2.6" fill="#0f68c0"/><rect x="378.08" y="219.08" width="2.8" height="2.6" fill="#0f68c0"/><rect x="382.46" y="236.06" width="2.8" height="2.6" fill="#0f68c0"/><rect x="386.84" y="256.39" width="2.8" height="2.6" fill="#0f68c0"/><rect x="391.22" y="278.25" width="2.8" height="2.6" fill="#0f68c0"/><rect x="395.60" y="299.99" width="2.8" height="2.6" fill="#0f68c0"/><rect x="399.98" y="320.19" width="2.8" height="2.6" fill="#0f68c0"/><rect x="404.36" y="320.61" width="2.8" height="2.6" fill="#0f68c0"/><rect x="408.74" y="306.33" width="2.8" height="2.6" fill="#0f68c0"/><rect x="413.12" y="295.74" width="2.8" height="2.6" fill="#0f68c0"/><rect x="417.50" y="288.85" width="2.8" height="2.6" fill="#0f68c0"/><rect x="421.88" y="285.43" width="2.8" height="2.6" fill="#0f68c0"/><rect x="426.26" y="285.05" width="2.8" height="2.6" fill="#0f68c0"/><rect x="430.64" y="287.14" width="2.8" height="2.6" fill="#0f68c0"/><rect x="435.02" y="291.07" width="2.8" height="2.6" fill="#0f68c0"/><rect x="439.40" y="296.22" width="2.8" height="2.6" fill="#0f68c0"/><rect x="443.78" y="302.01" width="2.8" height="2.6" fill="#0f68c0"/><rect x="448.16" y="307.94" width="2.8" height="2.6" fill="#0f68c0"/><rect x="452.54" y="313.62" width="2.8" height="2.6" fill="#0f68c0"/><rect x="456.92" y="318.76" width="2.8" height="2.6" fill="#0f68c0"/><rect x="461.30" y="323.19" width="2.8" height="2.6" fill="#0f68c0"/><rect x="465.68" y="326.82" width="2.8" height="2.6" fill="#0f68c0"/><rect x="470.06" y="328.77" width="2.8" height="2.6" fill="#0f68c0"/><rect x="474.44" y="326.73" width="2.8" height="2.6" fill="#0f68c0"/><rect x="478.82" y="325.37" width="2.8" height="2.6" fill="#0f68c0"/><rect x="483.20" y="324.58" width="2.8" height="2.6" fill="#0f68c0"/>
<polyline points="313.78,313.01 318.16,292.61 322.54,278.39 326.92,272.62 331.30,275.34 335.68,285.38 340.06,300.85 344.44,319.54 348.82,321.78 353.20,303.16 357.58,287.27 361.96,275.34 366.34,268.04 370.72,265.57 375.10,267.67 379.48,273.70 383.86,282.79 388.24,293.91 392.62,306.02 397.00,318.14 401.38,329.42 405.76,321.79 410.14,313.92 414.52,308.19 418.90,304.64 423.28,303.11 427.66,303.36 432.04,305.04 436.42,307.78 440.80,311.19 445.18,314.93 449.56,318.71 453.94,322.29 458.32,325.49 462.70,328.22 467.08,330.43 471.46,328.89 475.84,327.70 480.22,326.95 484.60,326.56" fill="none" stroke="#f08030" stroke-width="0.6" stroke-linejoin="round"/>
<circle cx="313.78" cy="313.01" r="1.7" fill="#fde3a8" stroke="#f06412" stroke-width="1.0"/><circle cx="318.16" cy="292.61" r="1.7" fill="#fde3a8" stroke="#f06412" stroke-width="1.0"/><circle cx="322.54" cy="278.39" r="1.7" fill="#fde3a8" stroke="#f06412" stroke-width="1.0"/><circle cx="326.92" cy="272.62" r="1.7" fill="#fde3a8" stroke="#f06412" stroke-width="1.0"/><circle cx="331.30" cy="275.34" r="1.7" fill="#fde3a8" stroke="#f06412" stroke-width="1.0"/><circle cx="335.68" cy="285.38" r="1.7" fill="#fde3a8" stroke="#f06412" stroke-width="1.0"/><circle cx="340.06" cy="300.85" r="1.7" fill="#fde3a8" stroke="#f06412" stroke-width="1.0"/><circle cx="344.44" cy="319.54" r="1.7" fill="#fde3a8" stroke="#f06412" stroke-width="1.0"/><circle cx="348.82" cy="321.78" r="1.7" fill="#fde3a8" stroke="#f06412" stroke-width="1.0"/><circle cx="353.20" cy="303.16" r="1.7" fill="#fde3a8" stroke="#f06412" stroke-width="1.0"/><circle cx="357.58" cy="287.27" r="1.7" fill="#fde3a8" stroke="#f06412" stroke-width="1.0"/><circle cx="361.96" cy="275.34" r="1.7" fill="#fde3a8" stroke="#f06412" stroke-width="1.0"/><circle cx="366.34" cy="268.04" r="1.7" fill="#fde3a8" stroke="#f06412" stroke-width="1.0"/><circle cx="370.72" cy="265.57" r="1.7" fill="#fde3a8" stroke="#f06412" stroke-width="1.0"/><circle cx="375.10" cy="267.67" r="1.7" fill="#fde3a8" stroke="#f06412" stroke-width="1.0"/><circle cx="379.48" cy="273.70" r="1.7" fill="#fde3a8" stroke="#f06412" stroke-width="1.0"/><circle cx="383.86" cy="282.79" r="1.7" fill="#fde3a8" stroke="#f06412" stroke-width="1.0"/><circle cx="388.24" cy="293.91" r="1.7" fill="#fde3a8" stroke="#f06412" stroke-width="1.0"/><circle cx="392.62" cy="306.02" r="1.7" fill="#fde3a8" stroke="#f06412" stroke-width="1.0"/><circle cx="397.00" cy="318.14" r="1.7" fill="#fde3a8" stroke="#f06412" stroke-width="1.0"/><circle cx="401.38" cy="329.42" r="1.7" fill="#fde3a8" stroke="#f06412" stroke-width="1.0"/><circle cx="405.76" cy="321.79" r="1.7" fill="#fde3a8" stroke="#f06412" stroke-width="1.0"/><circle cx="410.14" cy="313.92" r="1.7" fill="#fde3a8" stroke="#f06412" stroke-width="1.0"/><circle cx="414.52" cy="308.19" r="1.7" fill="#fde3a8" stroke="#f06412" stroke-width="1.0"/><circle cx="418.90" cy="304.64" r="1.7" fill="#fde3a8" stroke="#f06412" stroke-width="1.0"/><circle cx="423.28" cy="303.11" r="1.7" fill="#fde3a8" stroke="#f06412" stroke-width="1.0"/><circle cx="427.66" cy="303.36" r="1.7" fill="#fde3a8" stroke="#f06412" stroke-width="1.0"/><circle cx="432.04" cy="305.04" r="1.7" fill="#fde3a8" stroke="#f06412" stroke-width="1.0"/><circle cx="436.42" cy="307.78" r="1.7" fill="#fde3a8" stroke="#f06412" stroke-width="1.0"/><circle cx="440.80" cy="311.19" r="1.7" fill="#fde3a8" stroke="#f06412" stroke-width="1.0"/><circle cx="445.18" cy="314.93" r="1.7" fill="#fde3a8" stroke="#f06412" stroke-width="1.0"/><circle cx="449.56" cy="318.71" r="1.7" fill="#fde3a8" stroke="#f06412" stroke-width="1.0"/><circle cx="453.94" cy="322.29" r="1.7" fill="#fde3a8" stroke="#f06412" stroke-width="1.0"/><circle cx="458.32" cy="325.49" r="1.7" fill="#fde3a8" stroke="#f06412" stroke-width="1.0"/><circle cx="462.70" cy="328.22" r="1.7" fill="#fde3a8" stroke="#f06412" stroke-width="1.0"/><circle cx="467.08" cy="330.43" r="1.7" fill="#fde3a8" stroke="#f06412" stroke-width="1.0"/><circle cx="471.46" cy="328.89" r="1.7" fill="#fde3a8" stroke="#f06412" stroke-width="1.0"/><circle cx="475.84" cy="327.70" r="1.7" fill="#fde3a8" stroke="#f06412" stroke-width="1.0"/><circle cx="480.22" cy="326.95" r="1.7" fill="#fde3a8" stroke="#f06412" stroke-width="1.0"/><circle cx="484.60" cy="326.56" r="1.7" fill="#fde3a8" stroke="#f06412" stroke-width="1.0"/>
<polyline points="313.78,313.01 318.16,292.61 322.54,278.39 326.92,272.62 331.30,275.34 335.68,285.38 340.06,300.85 344.44,319.54 348.82,321.78 353.20,303.16 357.58,287.27 361.96,275.34 366.34,268.04 370.72,265.57 375.10,267.67 379.48,273.70 383.86,282.79 388.24,293.91 392.62,306.02 397.00,318.14 401.38,329.42 405.76,321.79 410.14,313.92 414.52,308.19 418.90,304.64 423.28,303.11 427.66,303.36 432.04,305.04 436.42,307.78 440.80,311.19 445.18,314.93 449.56,318.71 453.94,322.29 458.32,325.49 462.70,328.22 467.08,330.43 471.46,328.89 475.84,327.70 480.22,326.95 484.60,326.56" fill="none" stroke="#f4c03c" stroke-width="0.6" stroke-linejoin="round"/>
<path d="M312.48 313.01h2.6M313.78 311.71v2.6" stroke="#f4bc28" stroke-width="0.65" fill="none"/><path d="M316.86 292.61h2.6M318.16 291.31v2.6" stroke="#f4bc28" stroke-width="0.65" fill="none"/><path d="M321.24 278.39h2.6M322.54 277.09v2.6" stroke="#f4bc28" stroke-width="0.65" fill="none"/><path d="M325.62 272.62h2.6M326.92 271.32v2.6" stroke="#f4bc28" stroke-width="0.65" fill="none"/><path d="M330.00 275.34h2.6M331.30 274.04v2.6" stroke="#f4bc28" stroke-width="0.65" fill="none"/><path d="M334.38 285.38h2.6M335.68 284.08v2.6" stroke="#f4bc28" stroke-width="0.65" fill="none"/><path d="M338.76 300.85h2.6M340.06 299.55v2.6" stroke="#f4bc28" stroke-width="0.65" fill="none"/><path d="M343.14 319.54h2.6M344.44 318.24v2.6" stroke="#f4bc28" stroke-width="0.65" fill="none"/><path d="M347.52 321.78h2.6M348.82 320.48v2.6" stroke="#f4bc28" stroke-width="0.65" fill="none"/><path d="M351.90 303.16h2.6M353.20 301.86v2.6" stroke="#f4bc28" stroke-width="0.65" fill="none"/><path d="M356.28 287.27h2.6M357.58 285.97v2.6" stroke="#f4bc28" stroke-width="0.65" fill="none"/><path d="M360.66 275.34h2.6M361.96 274.04v2.6" stroke="#f4bc28" stroke-width="0.65" fill="none"/><path d="M365.04 268.04h2.6M366.34 266.74v2.6" stroke="#f4bc28" stroke-width="0.65" fill="none"/><path d="M369.42 265.57h2.6M370.72 264.27v2.6" stroke="#f4bc28" stroke-width="0.65" fill="none"/><path d="M373.80 267.67h2.6M375.10 266.37v2.6" stroke="#f4bc28" stroke-width="0.65" fill="none"/><path d="M378.18 273.70h2.6M379.48 272.40v2.6" stroke="#f4bc28" stroke-width="0.65" fill="none"/><path d="M382.56 282.79h2.6M383.86 281.49v2.6" stroke="#f4bc28" stroke-width="0.65" fill="none"/><path d="M386.94 293.91h2.6M388.24 292.61v2.6" stroke="#f4bc28" stroke-width="0.65" fill="none"/><path d="M391.32 306.02h2.6M392.62 304.72v2.6" stroke="#f4bc28" stroke-width="0.65" fill="none"/><path d="M395.70 318.14h2.6M397.00 316.84v2.6" stroke="#f4bc28" stroke-width="0.65" fill="none"/><path d="M400.08 329.42h2.6M401.38 328.12v2.6" stroke="#f4bc28" stroke-width="0.65" fill="none"/><path d="M404.46 321.79h2.6M405.76 320.49v2.6" stroke="#f4bc28" stroke-width="0.65" fill="none"/><path d="M408.84 313.92h2.6M410.14 312.62v2.6" stroke="#f4bc28" stroke-width="0.65" fill="none"/><path d="M413.22 308.19h2.6M414.52 306.89v2.6" stroke="#f4bc28" stroke-width="0.65" fill="none"/><path d="M417.60 304.64h2.6M418.90 303.34v2.6" stroke="#f4bc28" stroke-width="0.65" fill="none"/><path d="M421.98 303.11h2.6M423.28 301.81v2.6" stroke="#f4bc28" stroke-width="0.65" fill="none"/><path d="M426.36 303.36h2.6M427.66 302.06v2.6" stroke="#f4bc28" stroke-width="0.65" fill="none"/><path d="M430.74 305.04h2.6M432.04 303.74v2.6" stroke="#f4bc28" stroke-width="0.65" fill="none"/><path d="M435.12 307.78h2.6M436.42 306.48v2.6" stroke="#f4bc28" stroke-width="0.65" fill="none"/><path d="M439.50 311.19h2.6M440.80 309.89v2.6" stroke="#f4bc28" stroke-width="0.65" fill="none"/><path d="M443.88 314.93h2.6M445.18 313.63v2.6" stroke="#f4bc28" stroke-width="0.65" fill="none"/><path d="M448.26 318.71h2.6M449.56 317.41v2.6" stroke="#f4bc28" stroke-width="0.65" fill="none"/><path d="M452.64 322.29h2.6M453.94 320.99v2.6" stroke="#f4bc28" stroke-width="0.65" fill="none"/><path d="M457.02 325.49h2.6M458.32 324.19v2.6" stroke="#f4bc28" stroke-width="0.65" fill="none"/><path d="M461.40 328.22h2.6M462.70 326.92v2.6" stroke="#f4bc28" stroke-width="0.65" fill="none"/><path d="M465.78 330.43h2.6M467.08 329.13v2.6" stroke="#f4bc28" stroke-width="0.65" fill="none"/><path d="M470.16 328.89h2.6M471.46 327.59v2.6" stroke="#f4bc28" stroke-width="0.65" fill="none"/><path d="M474.54 327.70h2.6M475.84 326.40v2.6" stroke="#f4bc28" stroke-width="0.65" fill="none"/><path d="M478.92 326.95h2.6M480.22 325.65v2.6" stroke="#f4bc28" stroke-width="0.65" fill="none"/><path d="M483.30 326.56h2.6M484.60 325.26v2.6" stroke="#f4bc28" stroke-width="0.65" fill="none"/>
<polyline points="313.78,329.29 318.16,327.10 322.54,324.77 326.92,322.75 331.30,321.33 335.68,320.63 340.06,320.71 344.44,321.53 348.82,322.99 353.20,324.95 357.58,327.24 361.96,329.69 366.34,328.88 370.72,326.61 375.10,324.63 379.48,323.04 383.86,321.88 388.24,321.18 392.62,320.94 397.00,321.11 401.38,321.63 405.76,322.45 410.14,323.47 414.52,324.62 418.90,325.84 423.28,327.04 427.66,328.19 432.04,329.23 436.42,330.13 440.80,330.11 445.18,329.50 449.56,329.05 453.94,328.74 458.32,328.56 462.70,328.48 467.08,328.49 471.46,328.57 475.84,328.69 480.22,328.85 484.60,329.02" fill="none" stroke="#9038a8" stroke-width="0.6" stroke-linejoin="round"/>
<path d="M312.28 327.49L315.68 329.29L312.28 331.09Z" fill="none" stroke="#8a2ea2" stroke-width="0.8"/><path d="M316.66 325.30L320.06 327.10L316.66 328.90Z" fill="none" stroke="#8a2ea2" stroke-width="0.8"/><path d="M321.04 322.97L324.44 324.77L321.04 326.57Z" fill="none" stroke="#8a2ea2" stroke-width="0.8"/><path d="M325.42 320.95L328.82 322.75L325.42 324.55Z" fill="none" stroke="#8a2ea2" stroke-width="0.8"/><path d="M329.80 319.53L333.20 321.33L329.80 323.13Z" fill="none" stroke="#8a2ea2" stroke-width="0.8"/><path d="M334.18 318.83L337.58 320.63L334.18 322.43Z" fill="none" stroke="#8a2ea2" stroke-width="0.8"/><path d="M338.56 318.91L341.96 320.71L338.56 322.51Z" fill="none" stroke="#8a2ea2" stroke-width="0.8"/><path d="M342.94 319.73L346.34 321.53L342.94 323.33Z" fill="none" stroke="#8a2ea2" stroke-width="0.8"/><path d="M347.32 321.19L350.72 322.99L347.32 324.79Z" fill="none" stroke="#8a2ea2" stroke-width="0.8"/><path d="M351.70 323.15L355.10 324.95L351.70 326.75Z" fill="none" stroke="#8a2ea2" stroke-width="0.8"/><path d="M356.08 325.44L359.48 327.24L356.08 329.04Z" fill="none" stroke="#8a2ea2" stroke-width="0.8"/><path d="M360.46 327.89L363.86 329.69L360.46 331.49Z" fill="none" stroke="#8a2ea2" stroke-width="0.8"/><path d="M364.84 327.08L368.24 328.88L364.84 330.68Z" fill="none" stroke="#8a2ea2" stroke-width="0.8"/><path d="M369.22 324.81L372.62 326.61L369.22 328.41Z" fill="none" stroke="#8a2ea2" stroke-width="0.8"/><path d="M373.60 322.83L377.00 324.63L373.60 326.43Z" fill="none" stroke="#8a2ea2" stroke-width="0.8"/><path d="M377.98 321.24L381.38 323.04L377.98 324.84Z" fill="none" stroke="#8a2ea2" stroke-width="0.8"/><path d="M382.36 320.08L385.76 321.88L382.36 323.68Z" fill="none" stroke="#8a2ea2" stroke-width="0.8"/><path d="M386.74 319.38L390.14 321.18L386.74 322.98Z" fill="none" stroke="#8a2ea2" stroke-width="0.8"/><path d="M391.12 319.14L394.52 320.94L391.12 322.74Z" fill="none" stroke="#8a2ea2" stroke-width="0.8"/><path d="M395.50 319.31L398.90 321.11L395.50 322.91Z" fill="none" stroke="#8a2ea2" stroke-width="0.8"/><path d="M399.88 319.83L403.28 321.63L399.88 323.43Z" fill="none" stroke="#8a2ea2" stroke-width="0.8"/><path d="M404.26 320.65L407.66 322.45L404.26 324.25Z" fill="none" stroke="#8a2ea2" stroke-width="0.8"/><path d="M408.64 321.67L412.04 323.47L408.64 325.27Z" fill="none" stroke="#8a2ea2" stroke-width="0.8"/><path d="M413.02 322.82L416.42 324.62L413.02 326.42Z" fill="none" stroke="#8a2ea2" stroke-width="0.8"/><path d="M417.40 324.04L420.80 325.84L417.40 327.64Z" fill="none" stroke="#8a2ea2" stroke-width="0.8"/><path d="M421.78 325.24L425.18 327.04L421.78 328.84Z" fill="none" stroke="#8a2ea2" stroke-width="0.8"/><path d="M426.16 326.39L429.56 328.19L426.16 329.99Z" fill="none" stroke="#8a2ea2" stroke-width="0.8"/><path d="M430.54 327.43L433.94 329.23L430.54 331.03Z" fill="none" stroke="#8a2ea2" stroke-width="0.8"/><path d="M434.92 328.33L438.32 330.13L434.92 331.93Z" fill="none" stroke="#8a2ea2" stroke-width="0.8"/><path d="M439.30 328.31L442.70 330.11L439.30 331.91Z" fill="none" stroke="#8a2ea2" stroke-width="0.8"/><path d="M443.68 327.70L447.08 329.50L443.68 331.30Z" fill="none" stroke="#8a2ea2" stroke-width="0.8"/><path d="M448.06 327.25L451.46 329.05L448.06 330.85Z" fill="none" stroke="#8a2ea2" stroke-width="0.8"/><path d="M452.44 326.94L455.84 328.74L452.44 330.54Z" fill="none" stroke="#8a2ea2" stroke-width="0.8"/><path d="M456.82 326.76L460.22 328.56L456.82 330.36Z" fill="none" stroke="#8a2ea2" stroke-width="0.8"/><path d="M461.20 326.68L464.60 328.48L461.20 330.28Z" fill="none" stroke="#8a2ea2" stroke-width="0.8"/><path d="M465.58 326.69L468.98 328.49L465.58 330.29Z" fill="none" stroke="#8a2ea2" stroke-width="0.8"/><path d="M469.96 326.77L473.36 328.57L469.96 330.37Z" fill="none" stroke="#8a2ea2" stroke-width="0.8"/><path d="M474.34 326.89L477.74 328.69L474.34 330.49Z" fill="none" stroke="#8a2ea2" stroke-width="0.8"/><path d="M478.72 327.05L482.12 328.85L478.72 330.65Z" fill="none" stroke="#8a2ea2" stroke-width="0.8"/><path d="M483.10 327.22L486.50 329.02L483.10 330.82Z" fill="none" stroke="#8a2ea2" stroke-width="0.8"/>
<rect x="370.50" y="218.90" width="111.70" height="36.40" fill="#fff" stroke="#a0a0a0" stroke-width="1.1"/>
<path d="M371.80 223.90H384.10" stroke="#3890e0" stroke-width="0.65"/>
<rect x="376.60" y="222.60" width="2.8" height="2.6" fill="#0f68c0"/>
<text transform="translate(386.00 225.45) scale(1.0 1)" font-size="5.1">Estimation of k-μ</text>
<text transform="translate(424.43 227.85) scale(1.0 1)" font-size="3.8">Yacoub</text>
<text transform="translate(438.44 225.45) scale(0.93 1)" font-size="5.1"><tspan font-style="italic">k</tspan>=1.1713<tspan dx="2.4" font-style="italic">μ</tspan>=1.0629</text>
<path d="M371.80 232.65H384.10" stroke="#f08030" stroke-width="0.65"/>
<circle cx="378.00" cy="232.65" r="1.7" fill="#fde3a8" stroke="#f06412" stroke-width="1.0"/>
<text transform="translate(386.00 234.20) scale(1.0 1)" font-size="5.1">Estimation of k-μ</text>
<text transform="translate(424.43 236.60) scale(1.0 1)" font-size="3.8">Δ</text>
<text transform="translate(428.37 234.20) scale(0.93 1)" font-size="5.1"><tspan font-style="italic">k</tspan>=0.60691<tspan dx="2.4" font-style="italic">μ</tspan>=1.302</text>
<path d="M371.80 241.40H384.10" stroke="#f4c03c" stroke-width="0.65"/>
<path d="M376.70 241.40h2.6M378.00 240.10v2.6" stroke="#f4bc28" stroke-width="0.65" fill="none"/>
<text transform="translate(386.00 242.95) scale(1.0 1)" font-size="5.1">Estimation of k-μ</text>
<text transform="translate(424.43 245.35) scale(1.0 1)" font-size="3.8">A</text>
<text transform="translate(428.37 242.95) scale(0.93 1)" font-size="5.1"><tspan font-style="italic">k</tspan>=0.60691<tspan dx="2.4" font-style="italic">μ</tspan>=1.302</text>
<path d="M371.80 250.15H384.10" stroke="#9038a8" stroke-width="0.65"/>
<path d="M376.50 248.35L379.90 250.15L376.50 251.95Z" fill="none" stroke="#8a2ea2" stroke-width="0.8"/>
<text transform="translate(386.00 251.70) scale(1.0 1)" font-size="5.1">Estimation of k-μ</text>
<text transform="translate(424.43 254.10) scale(1.0 1)" font-size="3.8">B</text>
<text transform="translate(428.37 251.70) scale(0.93 1)" font-size="5.1"><tspan font-style="italic">k</tspan>=0.037025<tspan dx="2.4" font-style="italic">μ</tspan>=1.5167</text>
<path d="M24.40 515.60v-1.75M24.40 376.30v1.75M41.92 515.60v-1.75M41.92 376.30v1.75M59.44 515.60v-1.75M59.44 376.30v1.75M76.96 515.60v-1.75M76.96 376.30v1.75M94.48 515.60v-1.75M94.48 376.30v1.75M112.00 515.60v-1.75M112.00 376.30v1.75M129.52 515.60v-1.75M129.52 376.30v1.75M147.04 515.60v-1.75M147.04 376.30v1.75M164.56 515.60v-1.75M164.56 376.30v1.75M182.08 515.60v-1.75M182.08 376.30v1.75M199.60 515.60v-1.75M199.60 376.30v1.75M24.40 515.60h1.75M199.60 515.60h-1.75M24.40 492.38h1.75M199.60 492.38h-1.75M24.40 469.17h1.75M199.60 469.17h-1.75M24.40 445.95h1.75M199.60 445.95h-1.75M24.40 422.73h1.75M199.60 422.73h-1.75M24.40 399.52h1.75M199.60 399.52h-1.75M24.40 376.30h1.75M199.60 376.30h-1.75" stroke="#262626" stroke-width="0.6" fill="none"/>
<rect x="24.40" y="376.30" width="175.20" height="139.30" fill="none" stroke="#a0a0a0" stroke-width="1.1"/>
<text transform="translate(24.40 523.70) scale(0.87 1)" class="tk" text-anchor="middle" font-size="6.2">0</text>
<text transform="translate(41.92 523.70) scale(0.87 1)" class="tk" text-anchor="middle" font-size="6.2">0.2</text>
<text transform="translate(59.44 523.70) scale(0.87 1)" class="tk" text-anchor="middle" font-size="6.2">0.4</text>
<text transform="translate(76.96 523.70) scale(0.87 1)" class="tk" text-anchor="middle" font-size="6.2">0.6</text>
<text transform="translate(94.48 523.70) scale(0.87 1)" class="tk" text-anchor="middle" font-size="6.2">0.8</text>
<text transform="translate(112.00 523.70) scale(0.87 1)" class="tk" text-anchor="middle" font-size="6.2">1</text>
<text transform="translate(129.52 523.70) scale(0.87 1)" class="tk" text-anchor="middle" font-size="6.2">1.2</text>
<text transform="translate(147.04 523.70) scale(0.87 1)" class="tk" text-anchor="middle" font-size="6.2">1.4</text>
<text transform="translate(164.56 523.70) scale(0.87 1)" class="tk" text-anchor="middle" font-size="6.2">1.6</text>
<text transform="translate(182.08 523.70) scale(0.87 1)" class="tk" text-anchor="middle" font-size="6.2">1.8</text>
<text transform="translate(199.60 523.70) scale(0.87 1)" class="tk" text-anchor="middle" font-size="6.2">2</text>
<text transform="translate(21.80 517.83) scale(0.87 1)" class="tk" text-anchor="end" font-size="6.2">0</text>
<text transform="translate(21.80 494.62) scale(0.87 1)" class="tk" text-anchor="end" font-size="6.2">0.2</text>
<text transform="translate(21.80 471.40) scale(0.87 1)" class="tk" text-anchor="end" font-size="6.2">0.4</text>
<text transform="translate(21.80 448.18) scale(0.87 1)" class="tk" text-anchor="end" font-size="6.2">0.6</text>
<text transform="translate(21.80 424.97) scale(0.87 1)" class="tk" text-anchor="end" font-size="6.2">0.8</text>
<text transform="translate(21.80 401.75) scale(0.87 1)" class="tk" text-anchor="end" font-size="6.2">1</text>
<text transform="translate(21.80 378.53) scale(0.87 1)" class="tk" text-anchor="end" font-size="6.2">1.2</text>
<text transform="translate(112.00 532.30) scale(0.965 1)" text-anchor="middle" font-size="6.3">Envelope <tspan font-style="italic">r</tspan></text>
<text transform="translate(11.00 445.95) rotate(-90) scale(1.0 1.0)" text-anchor="middle" font-size="6.1">PDF values of parameters <tspan font-style="italic">k</tspan> and <tspan font-style="italic">μ</tspan></text>
<g>
<polyline points="28.78,515.48 33.16,514.69 37.54,512.60 41.92,508.74 46.30,502.79 50.68,494.66 55.06,484.44 59.44,472.44 63.82,459.16 68.20,445.19 72.58,431.23 76.96,417.96 81.34,406.05 85.72,396.05 90.10,388.41 94.48,383.40 98.86,381.15 103.24,381.62 107.62,384.64 112.00,389.92 116.38,397.08 120.76,405.69 125.14,415.31 129.52,425.52 133.90,435.91 138.28,446.13 142.66,455.92 147.04,465.04 151.42,473.36 155.80,480.78 160.18,487.28 164.56,492.87 168.94,497.59 173.32,501.51 177.70,504.71 182.08,507.29 186.46,509.34 190.84,510.94 195.22,512.17 199.60,513.11" fill="none" stroke="#2a2a2a" stroke-width="0.75" stroke-linejoin="round"/>
<polyline points="28.78,511.47 33.16,507.39 37.54,502.90 41.92,497.76 46.30,491.79 50.68,484.88 55.06,477.01 59.44,468.22 63.82,458.65 68.20,448.52 72.58,438.11 76.96,427.80 81.34,417.99 85.72,409.09 90.10,401.52 94.48,395.63 98.86,391.71 103.24,389.95 107.62,390.43 112.00,393.11 116.38,397.85 120.76,404.38 125.14,412.38 129.52,421.47 133.90,431.24 138.28,441.30 142.66,451.29 147.04,460.89 151.42,469.86 155.80,478.01 160.18,485.23 164.56,491.49 168.94,496.78 173.32,501.16 177.70,504.71 182.08,507.52 186.46,509.71 190.84,511.38 195.22,512.63 199.60,513.54" fill="none" stroke="#3890e0" stroke-width="0.6" stroke-linejoin="round"/>
<rect x="27.38" y="510.17" width="2.8" height="2.6" fill="#0f68c0"/><rect x="31.76" y="506.09" width="2.8" height="2.6" fill="#0f68c0"/><rect x="36.14" y="501.60" width="2.8" height="2.6" fill="#0f68c0"/><rect x="40.52" y="496.46" width="2.8" height="2.6" fill="#0f68c0"/><rect x="44.90" y="490.49" width="2.8" height="2.6" fill="#0f68c0"/><rect x="49.28" y="483.58" width="2.8" height="2.6" fill="#0f68c0"/><rect x="53.66" y="475.71" width="2.8" height="2.6" fill="#0f68c0"/><rect x="58.04" y="466.92" width="2.8" height="2.6" fill="#0f68c0"/><rect x="62.42" y="457.35" width="2.8" height="2.6" fill="#0f68c0"/><rect x="66.80" y="447.22" width="2.8" height="2.6" fill="#0f68c0"/><rect x="71.18" y="436.81" width="2.8" height="2.6" fill="#0f68c0"/><rect x="75.56" y="426.50" width="2.8" height="2.6" fill="#0f68c0"/><rect x="79.94" y="416.69" width="2.8" height="2.6" fill="#0f68c0"/><rect x="84.32" y="407.79" width="2.8" height="2.6" fill="#0f68c0"/><rect x="88.70" y="400.22" width="2.8" height="2.6" fill="#0f68c0"/><rect x="93.08" y="394.33" width="2.8" height="2.6" fill="#0f68c0"/><rect x="97.46" y="390.41" width="2.8" height="2.6" fill="#0f68c0"/><rect x="101.84" y="388.65" width="2.8" height="2.6" fill="#0f68c0"/><rect x="106.22" y="389.13" width="2.8" height="2.6" fill="#0f68c0"/><rect x="110.60" y="391.81" width="2.8" height="2.6" fill="#0f68c0"/><rect x="114.98" y="396.55" width="2.8" height="2.6" fill="#0f68c0"/><rect x="119.36" y="403.08" width="2.8" height="2.6" fill="#0f68c0"/><rect x="123.74" y="411.08" width="2.8" height="2.6" fill="#0f68c0"/><rect x="128.12" y="420.17" width="2.8" height="2.6" fill="#0f68c0"/><rect x="132.50" y="429.94" width="2.8" height="2.6" fill="#0f68c0"/><rect x="136.88" y="440.00" width="2.8" height="2.6" fill="#0f68c0"/><rect x="141.26" y="449.99" width="2.8" height="2.6" fill="#0f68c0"/><rect x="145.64" y="459.59" width="2.8" height="2.6" fill="#0f68c0"/><rect x="150.02" y="468.56" width="2.8" height="2.6" fill="#0f68c0"/><rect x="154.40" y="476.71" width="2.8" height="2.6" fill="#0f68c0"/><rect x="158.78" y="483.93" width="2.8" height="2.6" fill="#0f68c0"/><rect x="163.16" y="490.19" width="2.8" height="2.6" fill="#0f68c0"/><rect x="167.54" y="495.48" width="2.8" height="2.6" fill="#0f68c0"/><rect x="171.92" y="499.86" width="2.8" height="2.6" fill="#0f68c0"/><rect x="176.30" y="503.41" width="2.8" height="2.6" fill="#0f68c0"/><rect x="180.68" y="506.22" width="2.8" height="2.6" fill="#0f68c0"/><rect x="185.06" y="508.41" width="2.8" height="2.6" fill="#0f68c0"/><rect x="189.44" y="510.08" width="2.8" height="2.6" fill="#0f68c0"/><rect x="193.82" y="511.33" width="2.8" height="2.6" fill="#0f68c0"/><rect x="198.20" y="512.24" width="2.8" height="2.6" fill="#0f68c0"/>
<polyline points="28.78,515.38 33.16,514.22 37.54,511.59 41.92,507.15 46.30,500.76 50.68,492.42 55.06,482.30 59.44,470.72 63.82,458.12 68.20,445.00 72.58,431.95 76.96,419.54 81.34,408.33 85.72,398.81 90.10,391.38 94.48,386.33 98.86,383.79 103.24,383.79 107.62,386.22 112.00,390.85 116.38,397.38 120.76,405.43 125.14,414.61 129.52,424.49 133.90,434.69 138.28,444.85 142.66,454.67 147.04,463.91 151.42,472.40 155.80,480.02 160.18,486.72 164.56,492.49 168.94,497.38 173.32,501.43 177.70,504.74 182.08,507.39 186.46,509.48 190.84,511.10 195.22,512.34 199.60,513.27" fill="none" stroke="#f08030" stroke-width="0.6" stroke-linejoin="round"/>
<circle cx="28.78" cy="515.38" r="1.7" fill="#fde3a8" stroke="#f06412" stroke-width="1.0"/><circle cx="33.16" cy="514.22" r="1.7" fill="#fde3a8" stroke="#f06412" stroke-width="1.0"/><circle cx="37.54" cy="511.59" r="1.7" fill="#fde3a8" stroke="#f06412" stroke-width="1.0"/><circle cx="41.92" cy="507.15" r="1.7" fill="#fde3a8" stroke="#f06412" stroke-width="1.0"/><circle cx="46.30" cy="500.76" r="1.7" fill="#fde3a8" stroke="#f06412" stroke-width="1.0"/><circle cx="50.68" cy="492.42" r="1.7" fill="#fde3a8" stroke="#f06412" stroke-width="1.0"/><circle cx="55.06" cy="482.30" r="1.7" fill="#fde3a8" stroke="#f06412" stroke-width="1.0"/><circle cx="59.44" cy="470.72" r="1.7" fill="#fde3a8" stroke="#f06412" stroke-width="1.0"/><circle cx="63.82" cy="458.12" r="1.7" fill="#fde3a8" stroke="#f06412" stroke-width="1.0"/><circle cx="68.20" cy="445.00" r="1.7" fill="#fde3a8" stroke="#f06412" stroke-width="1.0"/><circle cx="72.58" cy="431.95" r="1.7" fill="#fde3a8" stroke="#f06412" stroke-width="1.0"/><circle cx="76.96" cy="419.54" r="1.7" fill="#fde3a8" stroke="#f06412" stroke-width="1.0"/><circle cx="81.34" cy="408.33" r="1.7" fill="#fde3a8" stroke="#f06412" stroke-width="1.0"/><circle cx="85.72" cy="398.81" r="1.7" fill="#fde3a8" stroke="#f06412" stroke-width="1.0"/><circle cx="90.10" cy="391.38" r="1.7" fill="#fde3a8" stroke="#f06412" stroke-width="1.0"/><circle cx="94.48" cy="386.33" r="1.7" fill="#fde3a8" stroke="#f06412" stroke-width="1.0"/><circle cx="98.86" cy="383.79" r="1.7" fill="#fde3a8" stroke="#f06412" stroke-width="1.0"/><circle cx="103.24" cy="383.79" r="1.7" fill="#fde3a8" stroke="#f06412" stroke-width="1.0"/><circle cx="107.62" cy="386.22" r="1.7" fill="#fde3a8" stroke="#f06412" stroke-width="1.0"/><circle cx="112.00" cy="390.85" r="1.7" fill="#fde3a8" stroke="#f06412" stroke-width="1.0"/><circle cx="116.38" cy="397.38" r="1.7" fill="#fde3a8" stroke="#f06412" stroke-width="1.0"/><circle cx="120.76" cy="405.43" r="1.7" fill="#fde3a8" stroke="#f06412" stroke-width="1.0"/><circle cx="125.14" cy="414.61" r="1.7" fill="#fde3a8" stroke="#f06412" stroke-width="1.0"/><circle cx="129.52" cy="424.49" r="1.7" fill="#fde3a8" stroke="#f06412" stroke-width="1.0"/><circle cx="133.90" cy="434.69" r="1.7" fill="#fde3a8" stroke="#f06412" stroke-width="1.0"/><circle cx="138.28" cy="444.85" r="1.7" fill="#fde3a8" stroke="#f06412" stroke-width="1.0"/><circle cx="142.66" cy="454.67" r="1.7" fill="#fde3a8" stroke="#f06412" stroke-width="1.0"/><circle cx="147.04" cy="463.91" r="1.7" fill="#fde3a8" stroke="#f06412" stroke-width="1.0"/><circle cx="151.42" cy="472.40" r="1.7" fill="#fde3a8" stroke="#f06412" stroke-width="1.0"/><circle cx="155.80" cy="480.02" r="1.7" fill="#fde3a8" stroke="#f06412" stroke-width="1.0"/><circle cx="160.18" cy="486.72" r="1.7" fill="#fde3a8" stroke="#f06412" stroke-width="1.0"/><circle cx="164.56" cy="492.49" r="1.7" fill="#fde3a8" stroke="#f06412" stroke-width="1.0"/><circle cx="168.94" cy="497.38" r="1.7" fill="#fde3a8" stroke="#f06412" stroke-width="1.0"/><circle cx="173.32" cy="501.43" r="1.7" fill="#fde3a8" stroke="#f06412" stroke-width="1.0"/><circle cx="177.70" cy="504.74" r="1.7" fill="#fde3a8" stroke="#f06412" stroke-width="1.0"/><circle cx="182.08" cy="507.39" r="1.7" fill="#fde3a8" stroke="#f06412" stroke-width="1.0"/><circle cx="186.46" cy="509.48" r="1.7" fill="#fde3a8" stroke="#f06412" stroke-width="1.0"/><circle cx="190.84" cy="511.10" r="1.7" fill="#fde3a8" stroke="#f06412" stroke-width="1.0"/><circle cx="195.22" cy="512.34" r="1.7" fill="#fde3a8" stroke="#f06412" stroke-width="1.0"/><circle cx="199.60" cy="513.27" r="1.7" fill="#fde3a8" stroke="#f06412" stroke-width="1.0"/>
<polyline points="28.78,515.38 33.16,514.22 37.54,511.59 41.92,507.15 46.30,500.76 50.68,492.42 55.06,482.30 59.44,470.72 63.82,458.12 68.20,445.00 72.58,431.95 76.96,419.54 81.34,408.33 85.72,398.81 90.10,391.38 94.48,386.33 98.86,383.79 103.24,383.79 107.62,386.22 112.00,390.85 116.38,397.38 120.76,405.43 125.14,414.61 129.52,424.49 133.90,434.69 138.28,444.85 142.66,454.67 147.04,463.91 151.42,472.40 155.80,480.02 160.18,486.72 164.56,492.49 168.94,497.38 173.32,501.43 177.70,504.74 182.08,507.39 186.46,509.48 190.84,511.10 195.22,512.34 199.60,513.27" fill="none" stroke="#f4c03c" stroke-width="0.6" stroke-linejoin="round"/>
<path d="M27.48 515.38h2.6M28.78 514.08v2.6" stroke="#f4bc28" stroke-width="0.65" fill="none"/><path d="M31.86 514.22h2.6M33.16 512.92v2.6" stroke="#f4bc28" stroke-width="0.65" fill="none"/><path d="M36.24 511.59h2.6M37.54 510.29v2.6" stroke="#f4bc28" stroke-width="0.65" fill="none"/><path d="M40.62 507.15h2.6M41.92 505.85v2.6" stroke="#f4bc28" stroke-width="0.65" fill="none"/><path d="M45.00 500.76h2.6M46.30 499.46v2.6" stroke="#f4bc28" stroke-width="0.65" fill="none"/><path d="M49.38 492.42h2.6M50.68 491.12v2.6" stroke="#f4bc28" stroke-width="0.65" fill="none"/><path d="M53.76 482.30h2.6M55.06 481.00v2.6" stroke="#f4bc28" stroke-width="0.65" fill="none"/><path d="M58.14 470.72h2.6M59.44 469.42v2.6" stroke="#f4bc28" stroke-width="0.65" fill="none"/><path d="M62.52 458.12h2.6M63.82 456.82v2.6" stroke="#f4bc28" stroke-width="0.65" fill="none"/><path d="M66.90 445.00h2.6M68.20 443.70v2.6" stroke="#f4bc28" stroke-width="0.65" fill="none"/><path d="M71.28 431.95h2.6M72.58 430.65v2.6" stroke="#f4bc28" stroke-width="0.65" fill="none"/><path d="M75.66 419.54h2.6M76.96 418.24v2.6" stroke="#f4bc28" stroke-width="0.65" fill="none"/><path d="M80.04 408.33h2.6M81.34 407.03v2.6" stroke="#f4bc28" stroke-width="0.65" fill="none"/><path d="M84.42 398.81h2.6M85.72 397.51v2.6" stroke="#f4bc28" stroke-width="0.65" fill="none"/><path d="M88.80 391.38h2.6M90.10 390.08v2.6" stroke="#f4bc28" stroke-width="0.65" fill="none"/><path d="M93.18 386.33h2.6M94.48 385.03v2.6" stroke="#f4bc28" stroke-width="0.65" fill="none"/><path d="M97.56 383.79h2.6M98.86 382.49v2.6" stroke="#f4bc28" stroke-width="0.65" fill="none"/><path d="M101.94 383.79h2.6M103.24 382.49v2.6" stroke="#f4bc28" stroke-width="0.65" fill="none"/><path d="M106.32 386.22h2.6M107.62 384.92v2.6" stroke="#f4bc28" stroke-width="0.65" fill="none"/><path d="M110.70 390.85h2.6M112.00 389.55v2.6" stroke="#f4bc28" stroke-width="0.65" fill="none"/><path d="M115.08 397.38h2.6M116.38 396.08v2.6" stroke="#f4bc28" stroke-width="0.65" fill="none"/><path d="M119.46 405.43h2.6M120.76 404.13v2.6" stroke="#f4bc28" stroke-width="0.65" fill="none"/><path d="M123.84 414.61h2.6M125.14 413.31v2.6" stroke="#f4bc28" stroke-width="0.65" fill="none"/><path d="M128.22 424.49h2.6M129.52 423.19v2.6" stroke="#f4bc28" stroke-width="0.65" fill="none"/><path d="M132.60 434.69h2.6M133.90 433.39v2.6" stroke="#f4bc28" stroke-width="0.65" fill="none"/><path d="M136.98 444.85h2.6M138.28 443.55v2.6" stroke="#f4bc28" stroke-width="0.65" fill="none"/><path d="M141.36 454.67h2.6M142.66 453.37v2.6" stroke="#f4bc28" stroke-width="0.65" fill="none"/><path d="M145.74 463.91h2.6M147.04 462.61v2.6" stroke="#f4bc28" stroke-width="0.65" fill="none"/><path d="M150.12 472.40h2.6M151.42 471.10v2.6" stroke="#f4bc28" stroke-width="0.65" fill="none"/><path d="M154.50 480.02h2.6M155.80 478.72v2.6" stroke="#f4bc28" stroke-width="0.65" fill="none"/><path d="M158.88 486.72h2.6M160.18 485.42v2.6" stroke="#f4bc28" stroke-width="0.65" fill="none"/><path d="M163.26 492.49h2.6M164.56 491.19v2.6" stroke="#f4bc28" stroke-width="0.65" fill="none"/><path d="M167.64 497.38h2.6M168.94 496.08v2.6" stroke="#f4bc28" stroke-width="0.65" fill="none"/><path d="M172.02 501.43h2.6M173.32 500.13v2.6" stroke="#f4bc28" stroke-width="0.65" fill="none"/><path d="M176.40 504.74h2.6M177.70 503.44v2.6" stroke="#f4bc28" stroke-width="0.65" fill="none"/><path d="M180.78 507.39h2.6M182.08 506.09v2.6" stroke="#f4bc28" stroke-width="0.65" fill="none"/><path d="M185.16 509.48h2.6M186.46 508.18v2.6" stroke="#f4bc28" stroke-width="0.65" fill="none"/><path d="M189.54 511.10h2.6M190.84 509.80v2.6" stroke="#f4bc28" stroke-width="0.65" fill="none"/><path d="M193.92 512.34h2.6M195.22 511.04v2.6" stroke="#f4bc28" stroke-width="0.65" fill="none"/><path d="M198.30 513.27h2.6M199.60 511.97v2.6" stroke="#f4bc28" stroke-width="0.65" fill="none"/>
<polyline points="28.78,515.49 33.16,514.70 37.54,512.62 41.92,508.77 46.30,502.84 50.68,494.72 55.06,484.51 59.44,472.52 63.82,459.24 68.20,445.27 72.58,431.29 76.96,418.00 81.34,406.07 85.72,396.05 90.10,388.38 94.48,383.35 98.86,381.08 103.24,381.54 107.62,384.55 112.00,389.83 116.38,396.99 120.76,405.60 125.14,415.24 129.52,425.46 133.90,435.86 138.28,446.10 142.66,455.90 147.04,465.03 151.42,473.36 155.80,480.79 160.18,487.30 164.56,492.89 168.94,497.61 173.32,501.53 177.70,504.73 182.08,507.31 186.46,509.36 190.84,510.95 195.22,512.19 199.60,513.12" fill="none" stroke="#9038a8" stroke-width="0.6" stroke-linejoin="round"/>
<path d="M27.28 513.69L30.68 515.49L27.28 517.29Z" fill="none" stroke="#8a2ea2" stroke-width="0.8"/><path d="M31.66 512.90L35.06 514.70L31.66 516.50Z" fill="none" stroke="#8a2ea2" stroke-width="0.8"/><path d="M36.04 510.82L39.44 512.62L36.04 514.42Z" fill="none" stroke="#8a2ea2" stroke-width="0.8"/><path d="M40.42 506.97L43.82 508.77L40.42 510.57Z" fill="none" stroke="#8a2ea2" stroke-width="0.8"/><path d="M44.80 501.04L48.20 502.84L44.80 504.64Z" fill="none" stroke="#8a2ea2" stroke-width="0.8"/><path d="M49.18 492.92L52.58 494.72L49.18 496.52Z" fill="none" stroke="#8a2ea2" stroke-width="0.8"/><path d="M53.56 482.71L56.96 484.51L53.56 486.31Z" fill="none" stroke="#8a2ea2" stroke-width="0.8"/><path d="M57.94 470.72L61.34 472.52L57.94 474.32Z" fill="none" stroke="#8a2ea2" stroke-width="0.8"/><path d="M62.32 457.44L65.72 459.24L62.32 461.04Z" fill="none" stroke="#8a2ea2" stroke-width="0.8"/><path d="M66.70 443.47L70.10 445.27L66.70 447.07Z" fill="none" stroke="#8a2ea2" stroke-width="0.8"/><path d="M71.08 429.49L74.48 431.29L71.08 433.09Z" fill="none" stroke="#8a2ea2" stroke-width="0.8"/><path d="M75.46 416.20L78.86 418.00L75.46 419.80Z" fill="none" stroke="#8a2ea2" stroke-width="0.8"/><path d="M79.84 404.27L83.24 406.07L79.84 407.87Z" fill="none" stroke="#8a2ea2" stroke-width="0.8"/><path d="M84.22 394.25L87.62 396.05L84.22 397.85Z" fill="none" stroke="#8a2ea2" stroke-width="0.8"/><path d="M88.60 386.58L92.00 388.38L88.60 390.18Z" fill="none" stroke="#8a2ea2" stroke-width="0.8"/><path d="M92.98 381.55L96.38 383.35L92.98 385.15Z" fill="none" stroke="#8a2ea2" stroke-width="0.8"/><path d="M97.36 379.28L100.76 381.08L97.36 382.88Z" fill="none" stroke="#8a2ea2" stroke-width="0.8"/><path d="M101.74 379.74L105.14 381.54L101.74 383.34Z" fill="none" stroke="#8a2ea2" stroke-width="0.8"/><path d="M106.12 382.75L109.52 384.55L106.12 386.35Z" fill="none" stroke="#8a2ea2" stroke-width="0.8"/><path d="M110.50 388.03L113.90 389.83L110.50 391.63Z" fill="none" stroke="#8a2ea2" stroke-width="0.8"/><path d="M114.88 395.19L118.28 396.99L114.88 398.79Z" fill="none" stroke="#8a2ea2" stroke-width="0.8"/><path d="M119.26 403.80L122.66 405.60L119.26 407.40Z" fill="none" stroke="#8a2ea2" stroke-width="0.8"/><path d="M123.64 413.44L127.04 415.24L123.64 417.04Z" fill="none" stroke="#8a2ea2" stroke-width="0.8"/><path d="M128.02 423.66L131.42 425.46L128.02 427.26Z" fill="none" stroke="#8a2ea2" stroke-width="0.8"/><path d="M132.40 434.06L135.80 435.86L132.40 437.66Z" fill="none" stroke="#8a2ea2" stroke-width="0.8"/><path d="M136.78 444.30L140.18 446.10L136.78 447.90Z" fill="none" stroke="#8a2ea2" stroke-width="0.8"/><path d="M141.16 454.10L144.56 455.90L141.16 457.70Z" fill="none" stroke="#8a2ea2" stroke-width="0.8"/><path d="M145.54 463.23L148.94 465.03L145.54 466.83Z" fill="none" stroke="#8a2ea2" stroke-width="0.8"/><path d="M149.92 471.56L153.32 473.36L149.92 475.16Z" fill="none" stroke="#8a2ea2" stroke-width="0.8"/><path d="M154.30 478.99L157.70 480.79L154.30 482.59Z" fill="none" stroke="#8a2ea2" stroke-width="0.8"/><path d="M158.68 485.50L162.08 487.30L158.68 489.10Z" fill="none" stroke="#8a2ea2" stroke-width="0.8"/><path d="M163.06 491.09L166.46 492.89L163.06 494.69Z" fill="none" stroke="#8a2ea2" stroke-width="0.8"/><path d="M167.44 495.81L170.84 497.61L167.44 499.41Z" fill="none" stroke="#8a2ea2" stroke-width="0.8"/><path d="M171.82 499.73L175.22 501.53L171.82 503.33Z" fill="none" stroke="#8a2ea2" stroke-width="0.8"/><path d="M176.20 502.93L179.60 504.73L176.20 506.53Z" fill="none" stroke="#8a2ea2" stroke-width="0.8"/><path d="M180.58 505.51L183.98 507.31L180.58 509.11Z" fill="none" stroke="#8a2ea2" stroke-width="0.8"/><path d="M184.96 507.56L188.36 509.36L184.96 511.16Z" fill="none" stroke="#8a2ea2" stroke-width="0.8"/><path d="M189.34 509.15L192.74 510.95L189.34 512.75Z" fill="none" stroke="#8a2ea2" stroke-width="0.8"/><path d="M193.72 510.39L197.12 512.19L193.72 513.99Z" fill="none" stroke="#8a2ea2" stroke-width="0.8"/><path d="M198.10 511.32L201.50 513.12L198.10 514.92Z" fill="none" stroke="#8a2ea2" stroke-width="0.8"/>
</g>
<rect x="78.40" y="465.50" width="114.70" height="42.70" fill="#fff" stroke="#a0a0a0" stroke-width="1.1"/>
<path d="M79.70 469.90H92.00" stroke="#3a3a3a" stroke-width="0.8"/>
<text transform="translate(93.00 471.45) scale(0.93 1)" font-size="5.1"><tspan font-style="italic">k</tspan>=0<tspan dx="2.4" font-style="italic">μ</tspan>=2</text>
<path d="M79.70 477.30H92.00" stroke="#3890e0" stroke-width="0.65"/>
<rect x="84.50" y="476.00" width="2.8" height="2.6" fill="#0f68c0"/>
<text transform="translate(93.00 478.85) scale(1.0 1)" font-size="5.1">Estimation of k-μ</text>
<text transform="translate(131.43 481.25) scale(1.0 1)" font-size="3.8">Yacoub</text>
<text transform="translate(145.44 478.85) scale(0.93 1)" font-size="5.1"><tspan font-style="italic">k</tspan>=2.4429<tspan dx="2.4" font-style="italic">μ</tspan>=0.97149</text>
<path d="M79.70 486.05H92.00" stroke="#f08030" stroke-width="0.65"/>
<circle cx="85.90" cy="486.05" r="1.7" fill="#fde3a8" stroke="#f06412" stroke-width="1.0"/>
<text transform="translate(93.00 487.60) scale(1.0 1)" font-size="5.1">Estimation of k-μ</text>
<text transform="translate(131.43 490.00) scale(1.0 1)" font-size="3.8">Δ</text>
<text transform="translate(135.37 487.60) scale(0.93 1)" font-size="5.1"><tspan font-style="italic">k</tspan>=0.39556<tspan dx="2.4" font-style="italic">μ</tspan>=1.8422</text>
<path d="M79.70 494.80H92.00" stroke="#f4c03c" stroke-width="0.65"/>
<path d="M84.60 494.80h2.6M85.90 493.50v2.6" stroke="#f4bc28" stroke-width="0.65" fill="none"/>
<text transform="translate(93.00 496.35) scale(1.0 1)" font-size="5.1">Estimation of k-μ</text>
<text transform="translate(131.43 498.75) scale(1.0 1)" font-size="3.8">A</text>
<text transform="translate(135.37 496.35) scale(0.93 1)" font-size="5.1"><tspan font-style="italic">k</tspan>=0.39556<tspan dx="2.4" font-style="italic">μ</tspan>=1.8422</text>
<path d="M79.70 503.55H92.00" stroke="#9038a8" stroke-width="0.65"/>
<path d="M84.40 501.75L87.80 503.55L84.40 505.35Z" fill="none" stroke="#8a2ea2" stroke-width="0.8"/>
<text transform="translate(93.00 505.10) scale(1.0 1)" font-size="5.1">Estimation of k-μ</text>
<text transform="translate(131.43 507.50) scale(1.0 1)" font-size="3.8">B</text>
<text transform="translate(135.37 505.10) scale(0.93 1)" font-size="5.1"><tspan font-style="italic">k</tspan>=0.024242<tspan dx="2.4" font-style="italic">μ</tspan>=2.002</text>
<path d="M309.40 515.60v-1.75M309.40 376.30v1.75M326.92 515.60v-1.75M326.92 376.30v1.75M344.44 515.60v-1.75M344.44 376.30v1.75M361.96 515.60v-1.75M361.96 376.30v1.75M379.48 515.60v-1.75M379.48 376.30v1.75M397.00 515.60v-1.75M397.00 376.30v1.75M414.52 515.60v-1.75M414.52 376.30v1.75M432.04 515.60v-1.75M432.04 376.30v1.75M449.56 515.60v-1.75M449.56 376.30v1.75M467.08 515.60v-1.75M467.08 376.30v1.75M484.60 515.60v-1.75M484.60 376.30v1.75M309.40 515.60h1.75M484.60 515.60h-1.75M309.40 495.70h1.75M484.60 495.70h-1.75M309.40 475.80h1.75M484.60 475.80h-1.75M309.40 455.90h1.75M484.60 455.90h-1.75M309.40 436.00h1.75M484.60 436.00h-1.75M309.40 416.10h1.75M484.60 416.10h-1.75M309.40 396.20h1.75M484.60 396.20h-1.75M309.40 376.30h1.75M484.60 376.30h-1.75" stroke="#262626" stroke-width="0.6" fill="none"/>
<rect x="309.40" y="376.30" width="175.20" height="139.30" fill="none" stroke="#a0a0a0" stroke-width="1.1"/>
<text transform="translate(309.40 523.70) scale(0.87 1)" class="tk" text-anchor="middle" font-size="6.2">0</text>
<text transform="translate(326.92 523.70) scale(0.87 1)" class="tk" text-anchor="middle" font-size="6.2">0.2</text>
<text transform="translate(344.44 523.70) scale(0.87 1)" class="tk" text-anchor="middle" font-size="6.2">0.4</text>
<text transform="translate(361.96 523.70) scale(0.87 1)" class="tk" text-anchor="middle" font-size="6.2">0.6</text>
<text transform="translate(379.48 523.70) scale(0.87 1)" class="tk" text-anchor="middle" font-size="6.2">0.8</text>
<text transform="translate(397.00 523.70) scale(0.87 1)" class="tk" text-anchor="middle" font-size="6.2">1</text>
<text transform="translate(414.52 523.70) scale(0.87 1)" class="tk" text-anchor="middle" font-size="6.2">1.2</text>
<text transform="translate(432.04 523.70) scale(0.87 1)" class="tk" text-anchor="middle" font-size="6.2">1.4</text>
<text transform="translate(449.56 523.70) scale(0.87 1)" class="tk" text-anchor="middle" font-size="6.2">1.6</text>
<text transform="translate(467.08 523.70) scale(0.87 1)" class="tk" text-anchor="middle" font-size="6.2">1.8</text>
<text transform="translate(484.60 523.70) scale(0.87 1)" class="tk" text-anchor="middle" font-size="6.2">2</text>
<text transform="translate(306.80 517.83) scale(0.87 1)" class="tk" text-anchor="end" font-size="6.2">0</text>
<text transform="translate(306.80 497.93) scale(0.87 1)" class="tk" text-anchor="end" font-size="6.2">0.02</text>
<text transform="translate(306.80 478.03) scale(0.87 1)" class="tk" text-anchor="end" font-size="6.2">0.04</text>
<text transform="translate(306.80 458.13) scale(0.87 1)" class="tk" text-anchor="end" font-size="6.2">0.06</text>
<text transform="translate(306.80 438.23) scale(0.87 1)" class="tk" text-anchor="end" font-size="6.2">0.08</text>
<text transform="translate(306.80 418.33) scale(0.87 1)" class="tk" text-anchor="end" font-size="6.2">0.1</text>
<text transform="translate(306.80 398.43) scale(0.87 1)" class="tk" text-anchor="end" font-size="6.2">0.12</text>
<text transform="translate(306.80 378.53) scale(0.87 1)" class="tk" text-anchor="end" font-size="6.2">0.14</text>
<text transform="translate(397.00 532.30) scale(0.965 1)" text-anchor="middle" font-size="6.3">Envelope <tspan font-style="italic">r</tspan></text>
<text transform="translate(293.00 445.95) rotate(-90) scale(1.0 1.0)" text-anchor="middle" font-size="6.1">Error of theoretical and estimated PDF curves</text>
<polyline points="313.78,481.23 318.16,453.03 322.54,432.41 326.92,421.43 331.30,421.24 335.68,431.82 340.06,451.97 344.44,479.45 348.82,511.27 353.20,487.11 357.58,456.59 361.96,431.24 366.34,413.24 370.72,403.81 375.10,403.21 379.48,410.79 383.86,425.11 388.24,444.25 392.62,466.01 397.00,488.23 401.38,509.00 405.76,504.37 410.14,490.44 414.52,480.86 418.90,475.59 423.28,474.19 427.66,475.96 432.04,480.05 436.42,485.61 440.80,491.82 445.18,498.03 449.56,503.75 453.94,508.66 458.32,512.60 462.70,515.54 467.08,513.64 471.46,512.41 475.84,511.82 480.22,511.69 484.60,511.89" fill="none" stroke="#3890e0" stroke-width="0.6" stroke-linejoin="round"/>
<rect x="312.38" y="479.93" width="2.8" height="2.6" fill="#0f68c0"/><rect x="316.76" y="451.73" width="2.8" height="2.6" fill="#0f68c0"/><rect x="321.14" y="431.11" width="2.8" height="2.6" fill="#0f68c0"/><rect x="325.52" y="420.13" width="2.8" height="2.6" fill="#0f68c0"/><rect x="329.90" y="419.94" width="2.8" height="2.6" fill="#0f68c0"/><rect x="334.28" y="430.52" width="2.8" height="2.6" fill="#0f68c0"/><rect x="338.66" y="450.67" width="2.8" height="2.6" fill="#0f68c0"/><rect x="343.04" y="478.15" width="2.8" height="2.6" fill="#0f68c0"/><rect x="347.42" y="509.97" width="2.8" height="2.6" fill="#0f68c0"/><rect x="351.80" y="485.81" width="2.8" height="2.6" fill="#0f68c0"/><rect x="356.18" y="455.29" width="2.8" height="2.6" fill="#0f68c0"/><rect x="360.56" y="429.94" width="2.8" height="2.6" fill="#0f68c0"/><rect x="364.94" y="411.94" width="2.8" height="2.6" fill="#0f68c0"/><rect x="369.32" y="402.51" width="2.8" height="2.6" fill="#0f68c0"/><rect x="373.70" y="401.91" width="2.8" height="2.6" fill="#0f68c0"/><rect x="378.08" y="409.49" width="2.8" height="2.6" fill="#0f68c0"/><rect x="382.46" y="423.81" width="2.8" height="2.6" fill="#0f68c0"/><rect x="386.84" y="442.95" width="2.8" height="2.6" fill="#0f68c0"/><rect x="391.22" y="464.71" width="2.8" height="2.6" fill="#0f68c0"/><rect x="395.60" y="486.93" width="2.8" height="2.6" fill="#0f68c0"/><rect x="399.98" y="507.70" width="2.8" height="2.6" fill="#0f68c0"/><rect x="404.36" y="503.07" width="2.8" height="2.6" fill="#0f68c0"/><rect x="408.74" y="489.14" width="2.8" height="2.6" fill="#0f68c0"/><rect x="413.12" y="479.56" width="2.8" height="2.6" fill="#0f68c0"/><rect x="417.50" y="474.29" width="2.8" height="2.6" fill="#0f68c0"/><rect x="421.88" y="472.89" width="2.8" height="2.6" fill="#0f68c0"/><rect x="426.26" y="474.66" width="2.8" height="2.6" fill="#0f68c0"/><rect x="430.64" y="478.75" width="2.8" height="2.6" fill="#0f68c0"/><rect x="435.02" y="484.31" width="2.8" height="2.6" fill="#0f68c0"/><rect x="439.40" y="490.52" width="2.8" height="2.6" fill="#0f68c0"/><rect x="443.78" y="496.73" width="2.8" height="2.6" fill="#0f68c0"/><rect x="448.16" y="502.45" width="2.8" height="2.6" fill="#0f68c0"/><rect x="452.54" y="507.36" width="2.8" height="2.6" fill="#0f68c0"/><rect x="456.92" y="511.30" width="2.8" height="2.6" fill="#0f68c0"/><rect x="461.30" y="514.24" width="2.8" height="2.6" fill="#0f68c0"/><rect x="465.68" y="512.34" width="2.8" height="2.6" fill="#0f68c0"/><rect x="470.06" y="511.11" width="2.8" height="2.6" fill="#0f68c0"/><rect x="474.44" y="510.52" width="2.8" height="2.6" fill="#0f68c0"/><rect x="478.82" y="510.39" width="2.8" height="2.6" fill="#0f68c0"/><rect x="483.20" y="510.59" width="2.8" height="2.6" fill="#0f68c0"/>
<polyline points="313.78,514.73 318.16,511.60 322.54,506.90 326.92,501.98 331.30,498.14 335.68,496.40 340.06,497.30 344.44,500.87 348.82,506.67 353.20,513.95 357.58,509.45 361.96,502.10 366.34,496.06 370.72,491.94 375.10,490.08 379.48,490.50 383.86,492.96 388.24,497.02 392.62,502.10 397.00,507.61 401.38,512.99 405.76,513.43 410.14,509.57 414.52,506.80 418.90,505.18 423.28,504.61 427.66,504.93 432.04,505.93 436.42,507.37 440.80,509.05 445.18,510.76 449.56,512.38 453.94,513.79 458.32,514.94 462.70,515.38 467.08,514.77 471.46,514.39 475.84,514.20 480.22,514.16 484.60,514.22" fill="none" stroke="#f08030" stroke-width="0.6" stroke-linejoin="round"/>
<circle cx="313.78" cy="514.73" r="1.7" fill="#fde3a8" stroke="#f06412" stroke-width="1.0"/><circle cx="318.16" cy="511.60" r="1.7" fill="#fde3a8" stroke="#f06412" stroke-width="1.0"/><circle cx="322.54" cy="506.90" r="1.7" fill="#fde3a8" stroke="#f06412" stroke-width="1.0"/><circle cx="326.92" cy="501.98" r="1.7" fill="#fde3a8" stroke="#f06412" stroke-width="1.0"/><circle cx="331.30" cy="498.14" r="1.7" fill="#fde3a8" stroke="#f06412" stroke-width="1.0"/><circle cx="335.68" cy="496.40" r="1.7" fill="#fde3a8" stroke="#f06412" stroke-width="1.0"/><circle cx="340.06" cy="497.30" r="1.7" fill="#fde3a8" stroke="#f06412" stroke-width="1.0"/><circle cx="344.44" cy="500.87" r="1.7" fill="#fde3a8" stroke="#f06412" stroke-width="1.0"/><circle cx="348.82" cy="506.67" r="1.7" fill="#fde3a8" stroke="#f06412" stroke-width="1.0"/><circle cx="353.20" cy="513.95" r="1.7" fill="#fde3a8" stroke="#f06412" stroke-width="1.0"/><circle cx="357.58" cy="509.45" r="1.7" fill="#fde3a8" stroke="#f06412" stroke-width="1.0"/><circle cx="361.96" cy="502.10" r="1.7" fill="#fde3a8" stroke="#f06412" stroke-width="1.0"/><circle cx="366.34" cy="496.06" r="1.7" fill="#fde3a8" stroke="#f06412" stroke-width="1.0"/><circle cx="370.72" cy="491.94" r="1.7" fill="#fde3a8" stroke="#f06412" stroke-width="1.0"/><circle cx="375.10" cy="490.08" r="1.7" fill="#fde3a8" stroke="#f06412" stroke-width="1.0"/><circle cx="379.48" cy="490.50" r="1.7" fill="#fde3a8" stroke="#f06412" stroke-width="1.0"/><circle cx="383.86" cy="492.96" r="1.7" fill="#fde3a8" stroke="#f06412" stroke-width="1.0"/><circle cx="388.24" cy="497.02" r="1.7" fill="#fde3a8" stroke="#f06412" stroke-width="1.0"/><circle cx="392.62" cy="502.10" r="1.7" fill="#fde3a8" stroke="#f06412" stroke-width="1.0"/><circle cx="397.00" cy="507.61" r="1.7" fill="#fde3a8" stroke="#f06412" stroke-width="1.0"/><circle cx="401.38" cy="512.99" r="1.7" fill="#fde3a8" stroke="#f06412" stroke-width="1.0"/><circle cx="405.76" cy="513.43" r="1.7" fill="#fde3a8" stroke="#f06412" stroke-width="1.0"/><circle cx="410.14" cy="509.57" r="1.7" fill="#fde3a8" stroke="#f06412" stroke-width="1.0"/><circle cx="414.52" cy="506.80" r="1.7" fill="#fde3a8" stroke="#f06412" stroke-width="1.0"/><circle cx="418.90" cy="505.18" r="1.7" fill="#fde3a8" stroke="#f06412" stroke-width="1.0"/><circle cx="423.28" cy="504.61" r="1.7" fill="#fde3a8" stroke="#f06412" stroke-width="1.0"/><circle cx="427.66" cy="504.93" r="1.7" fill="#fde3a8" stroke="#f06412" stroke-width="1.0"/><circle cx="432.04" cy="505.93" r="1.7" fill="#fde3a8" stroke="#f06412" stroke-width="1.0"/><circle cx="436.42" cy="507.37" r="1.7" fill="#fde3a8" stroke="#f06412" stroke-width="1.0"/><circle cx="440.80" cy="509.05" r="1.7" fill="#fde3a8" stroke="#f06412" stroke-width="1.0"/><circle cx="445.18" cy="510.76" r="1.7" fill="#fde3a8" stroke="#f06412" stroke-width="1.0"/><circle cx="449.56" cy="512.38" r="1.7" fill="#fde3a8" stroke="#f06412" stroke-width="1.0"/><circle cx="453.94" cy="513.79" r="1.7" fill="#fde3a8" stroke="#f06412" stroke-width="1.0"/><circle cx="458.32" cy="514.94" r="1.7" fill="#fde3a8" stroke="#f06412" stroke-width="1.0"/><circle cx="462.70" cy="515.38" r="1.7" fill="#fde3a8" stroke="#f06412" stroke-width="1.0"/><circle cx="467.08" cy="514.77" r="1.7" fill="#fde3a8" stroke="#f06412" stroke-width="1.0"/><circle cx="471.46" cy="514.39" r="1.7" fill="#fde3a8" stroke="#f06412" stroke-width="1.0"/><circle cx="475.84" cy="514.20" r="1.7" fill="#fde3a8" stroke="#f06412" stroke-width="1.0"/><circle cx="480.22" cy="514.16" r="1.7" fill="#fde3a8" stroke="#f06412" stroke-width="1.0"/><circle cx="484.60" cy="514.22" r="1.7" fill="#fde3a8" stroke="#f06412" stroke-width="1.0"/>
<polyline points="313.78,514.73 318.16,511.60 322.54,506.90 326.92,501.98 331.30,498.14 335.68,496.40 340.06,497.30 344.44,500.87 348.82,506.67 353.20,513.95 357.58,509.45 361.96,502.10 366.34,496.06 370.72,491.94 375.10,490.08 379.48,490.50 383.86,492.96 388.24,497.02 392.62,502.10 397.00,507.61 401.38,512.99 405.76,513.43 410.14,509.57 414.52,506.80 418.90,505.18 423.28,504.61 427.66,504.93 432.04,505.93 436.42,507.37 440.80,509.05 445.18,510.76 449.56,512.38 453.94,513.79 458.32,514.94 462.70,515.38 467.08,514.77 471.46,514.39 475.84,514.20 480.22,514.16 484.60,514.22" fill="none" stroke="#f4c03c" stroke-width="0.6" stroke-linejoin="round"/>
<path d="M312.48 514.73h2.6M313.78 513.43v2.6" stroke="#f4bc28" stroke-width="0.65" fill="none"/><path d="M316.86 511.60h2.6M318.16 510.30v2.6" stroke="#f4bc28" stroke-width="0.65" fill="none"/><path d="M321.24 506.90h2.6M322.54 505.60v2.6" stroke="#f4bc28" stroke-width="0.65" fill="none"/><path d="M325.62 501.98h2.6M326.92 500.68v2.6" stroke="#f4bc28" stroke-width="0.65" fill="none"/><path d="M330.00 498.14h2.6M331.30 496.84v2.6" stroke="#f4bc28" stroke-width="0.65" fill="none"/><path d="M334.38 496.40h2.6M335.68 495.10v2.6" stroke="#f4bc28" stroke-width="0.65" fill="none"/><path d="M338.76 497.30h2.6M340.06 496.00v2.6" stroke="#f4bc28" stroke-width="0.65" fill="none"/><path d="M343.14 500.87h2.6M344.44 499.57v2.6" stroke="#f4bc28" stroke-width="0.65" fill="none"/><path d="M347.52 506.67h2.6M348.82 505.37v2.6" stroke="#f4bc28" stroke-width="0.65" fill="none"/><path d="M351.90 513.95h2.6M353.20 512.65v2.6" stroke="#f4bc28" stroke-width="0.65" fill="none"/><path d="M356.28 509.45h2.6M357.58 508.15v2.6" stroke="#f4bc28" stroke-width="0.65" fill="none"/><path d="M360.66 502.10h2.6M361.96 500.80v2.6" stroke="#f4bc28" stroke-width="0.65" fill="none"/><path d="M365.04 496.06h2.6M366.34 494.76v2.6" stroke="#f4bc28" stroke-width="0.65" fill="none"/><path d="M369.42 491.94h2.6M370.72 490.64v2.6" stroke="#f4bc28" stroke-width="0.65" fill="none"/><path d="M373.80 490.08h2.6M375.10 488.78v2.6" stroke="#f4bc28" stroke-width="0.65" fill="none"/><path d="M378.18 490.50h2.6M379.48 489.20v2.6" stroke="#f4bc28" stroke-width="0.65" fill="none"/><path d="M382.56 492.96h2.6M383.86 491.66v2.6" stroke="#f4bc28" stroke-width="0.65" fill="none"/><path d="M386.94 497.02h2.6M388.24 495.72v2.6" stroke="#f4bc28" stroke-width="0.65" fill="none"/><path d="M391.32 502.10h2.6M392.62 500.80v2.6" stroke="#f4bc28" stroke-width="0.65" fill="none"/><path d="M395.70 507.61h2.6M397.00 506.31v2.6" stroke="#f4bc28" stroke-width="0.65" fill="none"/><path d="M400.08 512.99h2.6M401.38 511.69v2.6" stroke="#f4bc28" stroke-width="0.65" fill="none"/><path d="M404.46 513.43h2.6M405.76 512.13v2.6" stroke="#f4bc28" stroke-width="0.65" fill="none"/><path d="M408.84 509.57h2.6M410.14 508.27v2.6" stroke="#f4bc28" stroke-width="0.65" fill="none"/><path d="M413.22 506.80h2.6M414.52 505.50v2.6" stroke="#f4bc28" stroke-width="0.65" fill="none"/><path d="M417.60 505.18h2.6M418.90 503.88v2.6" stroke="#f4bc28" stroke-width="0.65" fill="none"/><path d="M421.98 504.61h2.6M423.28 503.31v2.6" stroke="#f4bc28" stroke-width="0.65" fill="none"/><path d="M426.36 504.93h2.6M427.66 503.63v2.6" stroke="#f4bc28" stroke-width="0.65" fill="none"/><path d="M430.74 505.93h2.6M432.04 504.63v2.6" stroke="#f4bc28" stroke-width="0.65" fill="none"/><path d="M435.12 507.37h2.6M436.42 506.07v2.6" stroke="#f4bc28" stroke-width="0.65" fill="none"/><path d="M439.50 509.05h2.6M440.80 507.75v2.6" stroke="#f4bc28" stroke-width="0.65" fill="none"/><path d="M443.88 510.76h2.6M445.18 509.46v2.6" stroke="#f4bc28" stroke-width="0.65" fill="none"/><path d="M448.26 512.38h2.6M449.56 511.08v2.6" stroke="#f4bc28" stroke-width="0.65" fill="none"/><path d="M452.64 513.79h2.6M453.94 512.49v2.6" stroke="#f4bc28" stroke-width="0.65" fill="none"/><path d="M457.02 514.94h2.6M458.32 513.64v2.6" stroke="#f4bc28" stroke-width="0.65" fill="none"/><path d="M461.40 515.38h2.6M462.70 514.08v2.6" stroke="#f4bc28" stroke-width="0.65" fill="none"/><path d="M465.78 514.77h2.6M467.08 513.47v2.6" stroke="#f4bc28" stroke-width="0.65" fill="none"/><path d="M470.16 514.39h2.6M471.46 513.09v2.6" stroke="#f4bc28" stroke-width="0.65" fill="none"/><path d="M474.54 514.20h2.6M475.84 512.90v2.6" stroke="#f4bc28" stroke-width="0.65" fill="none"/><path d="M478.92 514.16h2.6M480.22 512.86v2.6" stroke="#f4bc28" stroke-width="0.65" fill="none"/><path d="M483.30 514.22h2.6M484.60 512.92v2.6" stroke="#f4bc28" stroke-width="0.65" fill="none"/>
<polyline points="313.78,515.59 318.16,515.54 322.54,515.46 326.92,515.34 331.30,515.20 335.68,515.07 340.06,514.97 344.44,514.92 348.82,514.92 353.20,514.97 357.58,515.08 361.96,515.24 366.34,515.43 370.72,515.57 375.10,515.36 379.48,515.17 383.86,515.02 388.24,514.90 392.62,514.83 397.00,514.81 401.38,514.83 405.76,514.89 410.14,514.97 414.52,515.08 418.90,515.20 423.28,515.32 427.66,515.43 432.04,515.53 436.42,515.58 440.80,515.52 445.18,515.47 449.56,515.43 453.94,515.42 458.32,515.41 462.70,515.41 467.08,515.43 471.46,515.44 475.84,515.46 480.22,515.48 484.60,515.50" fill="none" stroke="#9038a8" stroke-width="0.6" stroke-linejoin="round"/>
<path d="M312.28 513.79L315.68 515.59L312.28 517.39Z" fill="none" stroke="#8a2ea2" stroke-width="0.8"/><path d="M316.66 513.74L320.06 515.54L316.66 517.34Z" fill="none" stroke="#8a2ea2" stroke-width="0.8"/><path d="M321.04 513.66L324.44 515.46L321.04 517.26Z" fill="none" stroke="#8a2ea2" stroke-width="0.8"/><path d="M325.42 513.54L328.82 515.34L325.42 517.14Z" fill="none" stroke="#8a2ea2" stroke-width="0.8"/><path d="M329.80 513.40L333.20 515.20L329.80 517.00Z" fill="none" stroke="#8a2ea2" stroke-width="0.8"/><path d="M334.18 513.27L337.58 515.07L334.18 516.87Z" fill="none" stroke="#8a2ea2" stroke-width="0.8"/><path d="M338.56 513.17L341.96 514.97L338.56 516.77Z" fill="none" stroke="#8a2ea2" stroke-width="0.8"/><path d="M342.94 513.12L346.34 514.92L342.94 516.72Z" fill="none" stroke="#8a2ea2" stroke-width="0.8"/><path d="M347.32 513.12L350.72 514.92L347.32 516.72Z" fill="none" stroke="#8a2ea2" stroke-width="0.8"/><path d="M351.70 513.17L355.10 514.97L351.70 516.77Z" fill="none" stroke="#8a2ea2" stroke-width="0.8"/><path d="M356.08 513.28L359.48 515.08L356.08 516.88Z" fill="none" stroke="#8a2ea2" stroke-width="0.8"/><path d="M360.46 513.44L363.86 515.24L360.46 517.04Z" fill="none" stroke="#8a2ea2" stroke-width="0.8"/><path d="M364.84 513.63L368.24 515.43L364.84 517.23Z" fill="none" stroke="#8a2ea2" stroke-width="0.8"/><path d="M369.22 513.77L372.62 515.57L369.22 517.37Z" fill="none" stroke="#8a2ea2" stroke-width="0.8"/><path d="M373.60 513.56L377.00 515.36L373.60 517.16Z" fill="none" stroke="#8a2ea2" stroke-width="0.8"/><path d="M377.98 513.37L381.38 515.17L377.98 516.97Z" fill="none" stroke="#8a2ea2" stroke-width="0.8"/><path d="M382.36 513.22L385.76 515.02L382.36 516.82Z" fill="none" stroke="#8a2ea2" stroke-width="0.8"/><path d="M386.74 513.10L390.14 514.90L386.74 516.70Z" fill="none" stroke="#8a2ea2" stroke-width="0.8"/><path d="M391.12 513.03L394.52 514.83L391.12 516.63Z" fill="none" stroke="#8a2ea2" stroke-width="0.8"/><path d="M395.50 513.01L398.90 514.81L395.50 516.61Z" fill="none" stroke="#8a2ea2" stroke-width="0.8"/><path d="M399.88 513.03L403.28 514.83L399.88 516.63Z" fill="none" stroke="#8a2ea2" stroke-width="0.8"/><path d="M404.26 513.09L407.66 514.89L404.26 516.69Z" fill="none" stroke="#8a2ea2" stroke-width="0.8"/><path d="M408.64 513.17L412.04 514.97L408.64 516.77Z" fill="none" stroke="#8a2ea2" stroke-width="0.8"/><path d="M413.02 513.28L416.42 515.08L413.02 516.88Z" fill="none" stroke="#8a2ea2" stroke-width="0.8"/><path d="M417.40 513.40L420.80 515.20L417.40 517.00Z" fill="none" stroke="#8a2ea2" stroke-width="0.8"/><path d="M421.78 513.52L425.18 515.32L421.78 517.12Z" fill="none" stroke="#8a2ea2" stroke-width="0.8"/><path d="M426.16 513.63L429.56 515.43L426.16 517.23Z" fill="none" stroke="#8a2ea2" stroke-width="0.8"/><path d="M430.54 513.73L433.94 515.53L430.54 517.33Z" fill="none" stroke="#8a2ea2" stroke-width="0.8"/><path d="M434.92 513.78L438.32 515.58L434.92 517.38Z" fill="none" stroke="#8a2ea2" stroke-width="0.8"/><path d="M439.30 513.72L442.70 515.52L439.30 517.32Z" fill="none" stroke="#8a2ea2" stroke-width="0.8"/><path d="M443.68 513.67L447.08 515.47L443.68 517.27Z" fill="none" stroke="#8a2ea2" stroke-width="0.8"/><path d="M448.06 513.63L451.46 515.43L448.06 517.23Z" fill="none" stroke="#8a2ea2" stroke-width="0.8"/><path d="M452.44 513.62L455.84 515.42L452.44 517.22Z" fill="none" stroke="#8a2ea2" stroke-width="0.8"/><path d="M456.82 513.61L460.22 515.41L456.82 517.21Z" fill="none" stroke="#8a2ea2" stroke-width="0.8"/><path d="M461.20 513.61L464.60 515.41L461.20 517.21Z" fill="none" stroke="#8a2ea2" stroke-width="0.8"/><path d="M465.58 513.63L468.98 515.43L465.58 517.23Z" fill="none" stroke="#8a2ea2" stroke-width="0.8"/><path d="M469.96 513.64L473.36 515.44L469.96 517.24Z" fill="none" stroke="#8a2ea2" stroke-width="0.8"/><path d="M474.34 513.66L477.74 515.46L474.34 517.26Z" fill="none" stroke="#8a2ea2" stroke-width="0.8"/><path d="M478.72 513.68L482.12 515.48L478.72 517.28Z" fill="none" stroke="#8a2ea2" stroke-width="0.8"/><path d="M483.10 513.70L486.50 515.50L483.10 517.30Z" fill="none" stroke="#8a2ea2" stroke-width="0.8"/>
<rect x="364.60" y="381.40" width="115.30" height="36.60" fill="#fff" stroke="#a0a0a0" stroke-width="1.1"/>
<path d="M365.90 386.40H378.20" stroke="#3890e0" stroke-width="0.65"/>
<rect x="370.70" y="385.10" width="2.8" height="2.6" fill="#0f68c0"/>
<text transform="translate(380.10 387.95) scale(1.0 1)" font-size="5.1">Estimation of k-μ</text>
<text transform="translate(418.53 390.35) scale(1.0 1)" font-size="3.8">Yacoub</text>
<text transform="translate(432.54 387.95) scale(0.93 1)" font-size="5.1"><tspan font-style="italic">k</tspan>=2.4429<tspan dx="2.4" font-style="italic">μ</tspan>=0.97149</text>
<path d="M365.90 395.15H378.20" stroke="#f08030" stroke-width="0.65"/>
<circle cx="372.10" cy="395.15" r="1.7" fill="#fde3a8" stroke="#f06412" stroke-width="1.0"/>
<text transform="translate(380.10 396.70) scale(1.0 1)" font-size="5.1">Estimation of k-μ</text>
<text transform="translate(418.53 399.10) scale(1.0 1)" font-size="3.8">Δ</text>
<text transform="translate(422.47 396.70) scale(0.93 1)" font-size="5.1"><tspan font-style="italic">k</tspan>=0.39556<tspan dx="2.4" font-style="italic">μ</tspan>=1.8422</text>
<path d="M365.90 403.90H378.20" stroke="#f4c03c" stroke-width="0.65"/>
<path d="M370.80 403.90h2.6M372.10 402.60v2.6" stroke="#f4bc28" stroke-width="0.65" fill="none"/>
<text transform="translate(380.10 405.45) scale(1.0 1)" font-size="5.1">Estimation of k-μ</text>
<text transform="translate(418.53 407.85) scale(1.0 1)" font-size="3.8">A</text>
<text transform="translate(422.47 405.45) scale(0.93 1)" font-size="5.1"><tspan font-style="italic">k</tspan>=0.39556<tspan dx="2.4" font-style="italic">μ</tspan>=1.8422</text>
<path d="M365.90 412.65H378.20" stroke="#9038a8" stroke-width="0.65"/>
<path d="M370.60 410.85L374.00 412.65L370.60 414.45Z" fill="none" stroke="#8a2ea2" stroke-width="0.8"/>
<text transform="translate(380.10 414.20) scale(1.0 1)" font-size="5.1">Estimation of k-μ</text>
<text transform="translate(418.53 416.60) scale(1.0 1)" font-size="3.8">B</text>
<text transform="translate(422.47 414.20) scale(0.93 1)" font-size="5.1"><tspan font-style="italic">k</tspan>=0.024242<tspan dx="2.4" font-style="italic">μ</tspan>=2.002</text>
<text x="250" y="174.50" text-anchor="middle" font-family='"Liberation Serif", serif' font-weight="bold" font-size="10.5" fill="#111">(a)</text>
<text x="250" y="360.80" text-anchor="middle" font-family='"Liberation Serif", serif' font-weight="bold" font-size="10.5" fill="#111">(b)</text>
<text x="250" y="544.70" text-anchor="middle" font-family='"Liberation Serif", serif' font-weight="bold" font-size="10.5" fill="#111">(c)</text>
</svg>
</body></html>
